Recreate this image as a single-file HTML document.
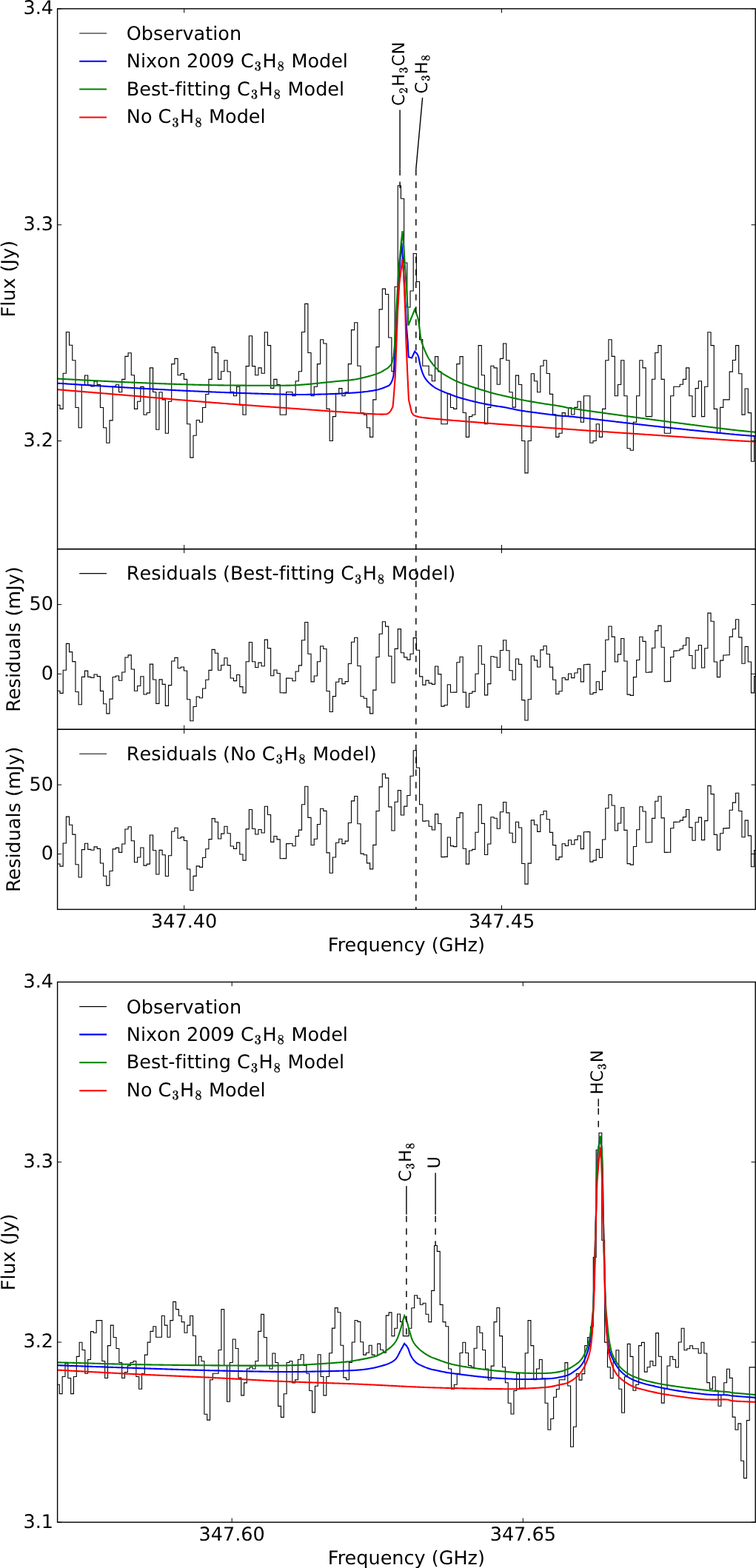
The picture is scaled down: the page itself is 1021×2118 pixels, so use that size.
<!DOCTYPE html><html><head><meta charset="utf-8"><title>Spectra</title>
<style>html,body{margin:0;padding:0;background:#fff}svg{display:block}text{font-family:'DejaVu Sans','Liberation Sans',sans-serif;fill:#000;text-rendering:geometricPrecision}</style></head><body>
<svg width="1021" height="2118" viewBox="0 0 1021 2118">
<rect width="1021" height="2118" fill="#fff"/>
<defs>
<clipPath id="ct"><rect x="77.6" y="11.8" width="942.6" height="729.8"/></clipPath>
<clipPath id="c1"><rect x="77.6" y="741.6" width="942.6" height="243.7"/></clipPath>
<clipPath id="c2"><rect x="77.6" y="985.3" width="942.6" height="243.1"/></clipPath>
<clipPath id="cb"><rect x="77.6" y="1326.5" width="942.6" height="729.7"/></clipPath>
</defs>
<g clip-path="url(#ct)" fill="none" stroke-linejoin="miter">
<path d="M77.6 547.3H81V552.4H85.19V504.2H89.37V448.5H93.56V466.3H97.74V486.7H101.93V550.5H106.12V577.7H110.3V519.7H114.49V507H118.67V520H122.86V521.9H127.05V515.3H131.23V519.5H135.42V550.5H139.6V577.7H143.79V598.3H147.98V567.9H152.16V522H156.35V519.7H160.53V529.8H164.72V512.4H168.91V481.4H173.09V476.8H177.28V506.7H181.46V552.4H185.65V542.2H189.84V522.4H194.02V560.3H198.21V557.5H202.39V496.9H206.58V529.5H210.77V580.2H214.95V529.7H219.14V539.9H223.32V585.3H227.51V542.2H231.7V491.6H235.88V484.4H240.07V506.7H244.25V504.5H248.44V512.4H252.63V572.8H256.81V618.1H261V588.3H265.18V567.5H269.37V570.2H273.56V550.5H277.74V532.5H281.93V512.4H286.11V468.9H290.3V476.5H294.49V512.4H298.67V501.8H302.86V486.7H307.04V502H311.23V529.2H315.42V534.8H319.6V522.2H323.79V547.3H327.97V560.2H332.16V494.6H336.35V453.8H340.53V494.6H344.72V506.7H348.9V496.9H353.09V504.2H357.28V448.7H361.46V466.6H365.65V524.4H369.83V512.4H374.02V519.5H378.21V560.3H382.39V560.3H386.58V529.5H390.76V529.5H394.95V534.8H399.14V514.7H403.32V501.8H407.51V448.5H411.69V410.4H415.88V476.5H420.07V534.8H424.25V522.2H428.44V491.6H432.62V458.7H436.81V464H441V552.4H445.18V595.5H449.37V562.6H453.55V532H457.74V524.6H461.93V534.8H466.11V529.7H470.3V491.6H474.48V445.6H478.67V435.8H482.86V494.3H487.04V557.5H491.23V560.3H495.41V577.7H499.6V590.4H503.79V539.9H507.97V468.6H512.16V417.9H516.34V390.1H520.53V397.5H524.72V456H528.9V501.8H533.09V387.3H537.27V250.8H541.46V268.3H545.65V355H549.83V415H554.02V393H558.2V342.5H562.39V380.5H566.58V458.6H570.76V494.3H574.95V494.3H579.13V506.7H583.32V514.7H587.51V481.6H591.69V502H595.88V572.8H600.06V572.8H604.25V532H608.44V550.5H612.62V552.4H616.81V491.6H620.99V481.6H625.18V557.5H629.37V590.4H633.55V562.6H637.74V560.3H641.92V524.6H646.11V466.6H650.3V506.7H654.48V572.8H658.67V550.4H662.85V494.3H667.04V496.9H671.23V519.2H675.41V484.4H679.6V464H683.78V486.7H687.97V529.7H692.16V550.1H696.34V507.1H700.53V519.5H704.71V595.5H708.9V638.9H713.09V595.5H717.27V504.8H721.46V514.7H725.64V529.7H729.83V494.3H734.02V486.7H738.2V504.5H742.39V532.4H746.57V559.7H750.76V590.4H754.95V585.3H759.13V557.6H763.32V562.3H767.5V550.5H771.69V560H775.88V550.4H780.06V542.3H784.25V570.2H788.43V534.8H792.62V534.8H796.81V598.3H800.99V595.5H805.18V572.8H809.36V590.4H813.55V552.4H817.74V486.7H821.92V458.7H826.11V481.4H830.29V534.8H834.48V519.5H838.67V486.7H842.85V534.8H847.04V605.7H851.22V608.3H855.41V570.2H859.6V534.8H863.78V486.7H867.97V496.9H872.15V562.6H876.34V562.6H880.53V512.3H884.71V476.5H888.9V466.6H893.08V512.4H897.27V585.3H901.46V585.3H905.64V534.8H909.83V522.2H914.01V522.2H918.2V519.2H922.39V512.4H926.57V496.9H930.76V534.8H934.94V562.6H939.13V524.6H943.32V514.7H947.5V562.6H951.69V522.2H955.87V448.7H960.06V466.6H964.25V552.4H968.43V585H972.62V550.4H976.8V539.9H980.99V539.9H985.18V502.1H989.36V486.5H993.55V466.6H997.73V504.7H1001.92V560.1H1006.11V525H1010.29V557.6H1014.48V623.2H1018.66V589H1020.2" stroke="#000" stroke-width="1.1"/>
<path d="M77.6 517.7 L79.02 517.79 L80.43 517.88 L81.85 517.96 L83.27 518.05 L84.69 518.14 L86.11 518.23 L87.53 518.32 L88.95 518.41 L90.37 518.5 L91.79 518.59 L93.21 518.68 L94.64 518.77 L96.06 518.86 L97.48 518.95 L98.9 519.04 L100.33 519.13 L101.75 519.22 L103.17 519.31 L104.6 519.4 L106.02 519.49 L107.45 519.58 L108.87 519.67 L110.29 519.76 L111.72 519.85 L113.14 519.94 L114.57 520.03 L115.99 520.12 L117.41 520.21 L118.84 520.3 L120.26 520.39 L121.69 520.49 L123.11 520.58 L124.53 520.67 L125.96 520.76 L127.38 520.85 L128.8 520.94 L130.22 521.03 L131.65 521.12 L133.07 521.21 L134.49 521.3 L135.91 521.38 L137.33 521.47 L138.75 521.56 L140.17 521.65 L141.59 521.74 L143.01 521.83 L144.42 521.92 L145.84 522 L147.26 522.09 L148.67 522.18 L150.09 522.27 L151.5 522.35 L152.92 522.44 L154.33 522.53 L155.74 522.61 L157.15 522.7 L158.56 522.78 L159.97 522.87 L161.38 522.95 L162.79 523.04 L164.2 523.12 L165.6 523.21 L167.01 523.29 L168.41 523.37 L169.82 523.46 L171.22 523.54 L172.62 523.62 L174.02 523.7 L175.42 523.78 L176.81 523.86 L178.21 523.94 L179.61 524.02 L181 524.1 L182.45 524.18 L183.9 524.26 L185.35 524.35 L186.8 524.43 L188.25 524.51 L189.69 524.59 L191.14 524.67 L192.58 524.75 L194.02 524.83 L195.46 524.91 L196.9 524.99 L198.34 525.07 L199.78 525.15 L201.22 525.23 L202.65 525.31 L204.09 525.39 L205.52 525.47 L206.96 525.55 L208.39 525.62 L209.82 525.7 L211.25 525.78 L212.68 525.86 L214.11 525.93 L215.54 526.01 L216.97 526.09 L218.39 526.16 L219.82 526.24 L221.24 526.32 L222.67 526.39 L224.1 526.47 L225.52 526.54 L226.94 526.62 L228.37 526.69 L229.79 526.76 L231.21 526.84 L232.63 526.91 L234.06 526.98 L235.48 527.06 L236.9 527.13 L238.32 527.2 L239.74 527.27 L241.16 527.34 L242.58 527.42 L244 527.49 L245.43 527.56 L246.85 527.63 L248.27 527.7 L249.69 527.77 L251.11 527.84 L252.53 527.9 L253.95 527.97 L255.37 528.04 L256.79 528.11 L258.21 528.18 L259.63 528.24 L261.05 528.31 L262.48 528.38 L263.9 528.44 L265.32 528.51 L266.74 528.57 L268.17 528.64 L269.59 528.7 L271.02 528.76 L272.44 528.83 L273.87 528.89 L275.29 528.95 L276.72 529.02 L278.14 529.08 L279.57 529.14 L281 529.2 L282.48 529.26 L283.96 529.32 L285.46 529.39 L286.96 529.45 L288.47 529.51 L290 529.57 L291.52 529.64 L293.06 529.7 L294.6 529.76 L296.15 529.82 L297.71 529.88 L299.27 529.95 L300.83 530.01 L302.4 530.07 L303.98 530.13 L305.55 530.19 L307.13 530.25 L308.72 530.31 L310.3 530.37 L311.89 530.43 L313.48 530.49 L315.07 530.55 L316.66 530.6 L318.24 530.66 L319.83 530.72 L321.42 530.78 L323.01 530.83 L324.59 530.89 L326.17 530.95 L327.75 531 L329.32 531.06 L330.9 531.11 L332.46 531.17 L334.03 531.22 L335.58 531.27 L337.13 531.32 L338.68 531.38 L340.22 531.43 L341.75 531.48 L343.27 531.53 L344.79 531.58 L346.29 531.62 L347.79 531.67 L349.28 531.72 L350.76 531.77 L352.23 531.81 L353.69 531.86 L355.13 531.9 L356.57 531.94 L357.99 531.99 L359.4 532.03 L360.8 532.07 L362.18 532.11 L363.55 532.15 L364.91 532.19 L366.25 532.23 L367.57 532.26 L368.88 532.3 L370.18 532.33 L371.45 532.37 L372.71 532.4 L373.95 532.43 L375.17 532.46 L376.38 532.49 L377.56 532.52 L378.73 532.55 L379.87 532.57 L381 532.6 L383.19 532.65 L385.3 532.69 L387.34 532.73 L389.31 532.77 L391.21 532.8 L393.04 532.83 L394.82 532.86 L396.54 532.88 L398.2 532.9 L399.82 532.92 L401.39 532.93 L402.92 532.94 L404.4 532.95 L405.85 532.96 L407.27 532.96 L408.66 532.96 L410.02 532.96 L411.37 532.95 L412.69 532.94 L413.99 532.93 L415.29 532.92 L416.58 532.91 L417.86 532.89 L419.14 532.87 L420.42 532.85 L421.7 532.83 L423 532.81 L424.31 532.78 L425.63 532.75 L426.97 532.73 L428.34 532.7 L429.73 532.67 L431.15 532.63 L432.6 532.6 L434.12 532.56 L435.66 532.52 L437.2 532.48 L438.76 532.44 L440.32 532.39 L441.89 532.34 L443.46 532.28 L445.04 532.23 L446.62 532.17 L448.2 532.11 L449.77 532.04 L451.35 531.98 L452.92 531.91 L454.48 531.84 L456.04 531.77 L457.59 531.7 L459.12 531.63 L460.65 531.55 L462.16 531.47 L463.65 531.39 L465.13 531.31 L466.59 531.23 L468.03 531.15 L469.45 531.07 L470.85 530.99 L472.22 530.9 L473.56 530.82 L474.88 530.73 L476.17 530.65 L477.43 530.56 L478.65 530.47 L479.84 530.39 L481 530.3 L482.84 530.16 L484.6 530.01 L486.3 529.86 L487.93 529.71 L489.49 529.56 L491 529.4 L492.44 529.24 L493.84 529.08 L495.18 528.92 L496.48 528.75 L497.74 528.58 L498.95 528.41 L500.14 528.23 L501.28 528.05 L502.41 527.87 L503.5 527.68 L504.57 527.49 L505.63 527.3 L506.67 527.1 L507.7 526.9 L509.36 526.55 L510.91 526.17 L512.37 525.77 L513.74 525.36 L515.02 524.94 L516.23 524.52 L517.35 524.1 L518.4 523.68 L519.39 523.28 L520.32 522.89 L521.18 522.53 L522 522.2 L523.58 521.54 L524.66 521.03 L525.41 520.55 L526.03 520 L526.7 519.3 L527.41 518.4 L528.04 517.38 L528.61 516.28 L529.12 515.14 L529.6 514 L530.03 512.86 L530.4 511.68 L530.73 510.49 L531.06 509.29 L531.4 508.1 L532.9 484.6 L534 465 L535.2 451.1 L536.3 420.8 L537.4 398.2 L538.6 379.3 L539.7 360.4 L540.8 345.3 L542.4 327.9 L544.2 352.9 L546.1 383.1 L547.6 413.3 L549.1 443.5 L550.7 462 L551.7 482.3 L556.1 483.5 L560.2 474.6 L560.86 475.4 L561.53 476.11 L562.21 476.81 L562.88 477.55 L563.53 478.38 L564.14 479.38 L564.7 480.6 L565.05 481.61 L565.36 482.74 L565.65 483.96 L565.91 485.26 L566.17 486.62 L566.42 488.01 L566.68 489.41 L566.96 490.81 L567.26 492.18 L567.6 493.5 L567.93 494.69 L568.26 495.9 L568.61 497.13 L568.96 498.36 L569.33 499.59 L569.71 500.81 L570.1 502.01 L570.5 503.18 L570.92 504.3 L571.35 505.38 L571.8 506.4 L572.36 507.56 L572.92 508.65 L573.5 509.68 L574.1 510.65 L574.73 511.59 L575.39 512.5 L576.08 513.4 L576.82 514.29 L577.6 515.2 L578.36 516.03 L579.17 516.86 L580.02 517.69 L580.9 518.5 L581.81 519.31 L582.73 520.09 L583.66 520.85 L584.59 521.57 L585.5 522.26 L586.4 522.9 L587.37 523.55 L588.32 524.15 L589.26 524.69 L590.2 525.19 L591.15 525.68 L592.12 526.14 L593.13 526.61 L594.19 527.09 L595.3 527.6 L596.35 528.07 L597.44 528.54 L598.56 529.01 L599.72 529.48 L600.89 529.95 L602.09 530.42 L603.31 530.89 L604.53 531.36 L605.76 531.83 L607 532.3 L608.09 532.72 L609.14 533.13 L610.15 533.54 L611.17 533.94 L612.2 534.35 L613.27 534.76 L614.41 535.17 L615.63 535.6 L616.95 536.05 L618.4 536.51 L620 537 L620.95 537.28 L621.96 537.57 L623.02 537.87 L624.12 538.18 L625.26 538.5 L626.44 538.83 L627.64 539.15 L628.88 539.49 L630.13 539.82 L631.4 540.16 L632.68 540.49 L633.97 540.83 L635.27 541.16 L636.56 541.48 L637.84 541.81 L639.11 542.12 L640.37 542.43 L641.61 542.73 L642.82 543.02 L644 543.3 L645.3 543.6 L646.62 543.9 L647.94 544.19 L649.27 544.48 L650.61 544.77 L651.94 545.05 L653.27 545.32 L654.59 545.59 L655.9 545.86 L657.19 546.11 L658.47 546.36 L659.73 546.61 L660.96 546.84 L662.16 547.07 L663.32 547.29 L664.46 547.5 L665.55 547.71 L666.6 547.9 L668.18 548.18 L669.6 548.41 L670.88 548.61 L672.07 548.78 L673.2 548.93 L674.31 549.07 L675.45 549.22 L676.65 549.39 L677.95 549.59 L679.39 549.82 L681 550.1 L682.07 550.3 L683.17 550.51 L684.31 550.74 L685.48 550.97 L686.69 551.22 L687.92 551.48 L689.18 551.75 L690.47 552.02 L691.78 552.29 L693.11 552.57 L694.46 552.85 L695.83 553.13 L697.22 553.41 L698.62 553.68 L700.02 553.95 L701.44 554.21 L702.87 554.46 L704.3 554.7 L705.55 554.9 L706.82 555.1 L708.13 555.3 L709.46 555.5 L710.81 555.7 L712.18 555.89 L713.57 556.09 L714.97 556.28 L716.37 556.47 L717.78 556.66 L719.19 556.85 L720.6 557.04 L722 557.22 L723.4 557.4 L724.78 557.58 L726.14 557.76 L727.49 557.93 L728.81 558.1 L730.1 558.27 L731.37 558.44 L732.6 558.6 L734.08 558.8 L735.51 558.99 L736.9 559.18 L738.26 559.37 L739.6 559.55 L740.9 559.73 L742.2 559.9 L743.48 560.07 L744.75 560.24 L746.02 560.41 L747.29 560.57 L748.57 560.73 L749.87 560.89 L751.19 561.04 L752.53 561.2 L753.9 561.35 L755.3 561.5 L756.55 561.63 L757.62 561.72 L758.55 561.8 L759.38 561.86 L760.15 561.9 L760.89 561.94 L761.64 561.97 L762.44 562.01 L763.32 562.06 L764.32 562.12 L765.47 562.19 L766.82 562.3 L768.39 562.43 L770.24 562.59 L772.38 562.8 L774.87 563.05 L777.73 563.35 L781 563.7 L781.86 563.8 L782.75 563.89 L783.67 564 L784.61 564.1 L785.57 564.21 L786.56 564.32 L787.58 564.44 L788.62 564.56 L789.68 564.68 L790.76 564.8 L791.86 564.93 L792.99 565.06 L794.13 565.19 L795.3 565.33 L796.48 565.46 L797.69 565.6 L798.91 565.75 L800.15 565.89 L801.41 566.04 L802.68 566.19 L803.97 566.34 L805.28 566.49 L806.6 566.65 L807.93 566.81 L809.28 566.96 L810.64 567.12 L812.02 567.29 L813.41 567.45 L814.81 567.62 L816.22 567.78 L817.64 567.95 L819.07 568.12 L820.51 568.29 L821.96 568.46 L823.42 568.63 L824.88 568.81 L826.36 568.98 L827.84 569.16 L829.32 569.33 L830.81 569.51 L832.31 569.68 L833.81 569.86 L835.32 570.04 L836.83 570.22 L838.34 570.39 L839.86 570.57 L841.37 570.75 L842.89 570.93 L844.41 571.11 L845.93 571.29 L847.45 571.46 L848.96 571.64 L850.48 571.82 L851.99 571.99 L853.5 572.17 L855.01 572.34 L856.52 572.52 L858.02 572.69 L859.51 572.87 L861 573.04 L862.49 573.21 L863.97 573.38 L865.44 573.55 L866.9 573.71 L868.36 573.88 L869.8 574.04 L871.24 574.21 L872.67 574.37 L874.09 574.53 L875.49 574.69 L876.89 574.84 L878.27 575 L879.64 575.15 L881 575.3 L882.38 575.45 L883.76 575.6 L885.16 575.76 L886.57 575.91 L887.98 576.07 L889.41 576.22 L890.84 576.38 L892.28 576.54 L893.73 576.69 L895.19 576.85 L896.65 577.01 L898.12 577.17 L899.6 577.33 L901.08 577.49 L902.57 577.65 L904.06 577.81 L905.55 577.97 L907.05 578.13 L908.55 578.29 L910.05 578.45 L911.56 578.61 L913.07 578.77 L914.57 578.93 L916.08 579.09 L917.59 579.25 L919.1 579.41 L920.61 579.57 L922.11 579.73 L923.62 579.89 L925.12 580.05 L926.62 580.21 L928.12 580.37 L929.61 580.52 L931.1 580.68 L932.58 580.84 L934.06 580.99 L935.54 581.15 L937 581.3 L938.47 581.45 L939.92 581.6 L941.37 581.75 L942.81 581.9 L944.24 582.05 L945.66 582.2 L947.07 582.35 L948.48 582.49 L949.87 582.64 L951.25 582.78 L952.63 582.92 L953.99 583.06 L955.33 583.2 L956.67 583.34 L957.99 583.47 L959.3 583.61 L960.6 583.74 L961.88 583.87 L963.14 584 L964.4 584.13 L965.63 584.25 L966.85 584.38 L968.05 584.5 L969.24 584.62 L970.4 584.74 L971.55 584.85 L972.68 584.97 L973.79 585.08 L974.89 585.19 L975.96 585.3 L977.01 585.4 L978.04 585.51 L979.05 585.61 L980.04 585.7 L981 585.8 L983.41 586.04 L985.67 586.26 L987.8 586.46 L989.79 586.65 L991.66 586.82 L993.42 586.98 L995.08 587.13 L996.63 587.27 L998.1 587.39 L999.49 587.51 L1000.8 587.62 L1002.05 587.72 L1003.25 587.81 L1004.4 587.9 L1005.51 587.98 L1006.59 588.06 L1007.65 588.14 L1008.69 588.22 L1009.73 588.29 L1010.77 588.37 L1011.83 588.44 L1012.9 588.52 L1014 588.61 L1015.13 588.69 L1016.31 588.78 L1017.54 588.88 L1018.84 588.99 L1020.2 589.1" stroke="#0000ff" stroke-width="2.1"/>
<path d="M77.6 511.6 L79.04 511.67 L80.47 511.74 L81.91 511.81 L83.35 511.89 L84.79 511.96 L86.23 512.03 L87.67 512.1 L89.11 512.18 L90.55 512.25 L91.99 512.32 L93.43 512.4 L94.87 512.47 L96.31 512.54 L97.76 512.62 L99.2 512.69 L100.64 512.77 L102.09 512.84 L103.53 512.91 L104.97 512.99 L106.42 513.06 L107.86 513.14 L109.3 513.21 L110.75 513.29 L112.19 513.36 L113.64 513.44 L115.08 513.51 L116.52 513.59 L117.97 513.66 L119.41 513.74 L120.86 513.81 L122.3 513.89 L123.74 513.96 L125.19 514.03 L126.63 514.11 L128.07 514.18 L129.51 514.26 L130.95 514.33 L132.4 514.4 L133.84 514.48 L135.28 514.55 L136.72 514.62 L138.16 514.7 L139.6 514.77 L141.04 514.84 L142.47 514.91 L143.91 514.98 L145.35 515.05 L146.79 515.13 L148.22 515.2 L149.66 515.27 L151.09 515.34 L152.52 515.41 L153.96 515.48 L155.39 515.54 L156.82 515.61 L158.25 515.68 L159.68 515.75 L161.11 515.82 L162.54 515.88 L163.96 515.95 L165.39 516.01 L166.81 516.08 L168.24 516.14 L169.66 516.21 L171.08 516.27 L172.5 516.33 L173.92 516.4 L175.34 516.46 L176.76 516.52 L178.17 516.58 L179.59 516.64 L181 516.7 L182.49 516.76 L183.99 516.82 L185.48 516.89 L186.97 516.95 L188.46 517.01 L189.95 517.07 L191.43 517.13 L192.92 517.19 L194.4 517.26 L195.89 517.32 L197.37 517.38 L198.85 517.44 L200.33 517.5 L201.81 517.56 L203.29 517.62 L204.76 517.68 L206.24 517.74 L207.71 517.79 L209.19 517.85 L210.66 517.91 L212.13 517.97 L213.6 518.02 L215.08 518.08 L216.55 518.14 L218.01 518.19 L219.48 518.25 L220.95 518.31 L222.42 518.36 L223.89 518.42 L225.35 518.47 L226.82 518.52 L228.28 518.58 L229.75 518.63 L231.21 518.68 L232.68 518.73 L234.14 518.78 L235.6 518.84 L237.07 518.89 L238.53 518.94 L239.99 518.98 L241.46 519.03 L242.92 519.08 L244.38 519.13 L245.84 519.18 L247.31 519.22 L248.77 519.27 L250.23 519.31 L251.69 519.36 L253.15 519.4 L254.62 519.44 L256.08 519.49 L257.54 519.53 L259.01 519.57 L260.47 519.61 L261.93 519.65 L263.4 519.69 L264.86 519.73 L266.33 519.77 L267.79 519.8 L269.26 519.84 L270.72 519.87 L272.19 519.91 L273.66 519.94 L275.12 519.98 L276.59 520.01 L278.06 520.04 L279.53 520.07 L281 520.1 L282.5 520.13 L284.02 520.16 L285.55 520.19 L287.09 520.21 L288.65 520.24 L290.21 520.26 L291.79 520.29 L293.39 520.31 L294.99 520.34 L296.6 520.36 L298.22 520.38 L299.85 520.4 L301.48 520.42 L303.12 520.44 L304.77 520.46 L306.42 520.48 L308.08 520.49 L309.74 520.51 L311.4 520.53 L313.07 520.54 L314.74 520.56 L316.41 520.57 L318.08 520.58 L319.74 520.6 L321.41 520.61 L323.08 520.62 L324.74 520.63 L326.4 520.64 L328.06 520.65 L329.71 520.66 L331.35 520.67 L332.99 520.68 L334.62 520.68 L336.25 520.69 L337.87 520.7 L339.47 520.7 L341.07 520.71 L342.66 520.71 L344.24 520.72 L345.8 520.72 L347.35 520.73 L348.89 520.73 L350.42 520.73 L351.93 520.74 L353.42 520.74 L354.9 520.74 L356.36 520.74 L357.81 520.74 L359.24 520.74 L360.64 520.74 L362.03 520.74 L363.4 520.74 L364.75 520.74 L366.07 520.74 L367.37 520.74 L368.65 520.74 L369.91 520.73 L371.14 520.73 L372.35 520.73 L373.53 520.73 L374.68 520.72 L375.81 520.72 L376.9 520.72 L377.97 520.71 L379.01 520.71 L380.02 520.7 L381 520.7 L384.06 520.68 L386.8 520.66 L389.26 520.63 L391.45 520.59 L393.39 520.55 L395.12 520.5 L396.65 520.45 L398.02 520.4 L399.24 520.34 L400.34 520.28 L401.34 520.21 L402.27 520.14 L403.15 520.07 L404.01 519.99 L404.86 519.91 L405.75 519.83 L406.68 519.75 L407.68 519.67 L408.78 519.58 L410 519.5 L411.59 519.39 L413.13 519.27 L414.63 519.15 L416.1 519.02 L417.53 518.89 L418.94 518.75 L420.33 518.61 L421.69 518.47 L423.05 518.32 L424.4 518.18 L425.74 518.03 L427.09 517.88 L428.45 517.73 L429.81 517.59 L431.2 517.44 L432.6 517.3 L434.01 517.16 L435.41 517.02 L436.81 516.88 L438.2 516.74 L439.59 516.61 L440.97 516.47 L442.36 516.33 L443.76 516.19 L445.16 516.05 L446.56 515.9 L447.98 515.76 L449.41 515.61 L450.86 515.46 L452.32 515.31 L453.8 515.16 L455.3 515 L456.65 514.86 L458.02 514.73 L459.4 514.61 L460.79 514.49 L462.19 514.37 L463.61 514.25 L465.03 514.13 L466.46 514.01 L467.9 513.88 L469.34 513.75 L470.79 513.6 L472.25 513.45 L473.71 513.28 L475.16 513.1 L476.62 512.9 L478.08 512.69 L479.54 512.46 L481 512.2 L482.21 511.97 L483.44 511.73 L484.7 511.48 L485.97 511.21 L487.26 510.93 L488.56 510.63 L489.87 510.33 L491.19 510.02 L492.5 509.7 L493.81 509.38 L495.11 509.05 L496.39 508.72 L497.66 508.38 L498.91 508.04 L500.14 507.7 L501.34 507.36 L502.5 507.03 L503.63 506.69 L504.72 506.36 L505.76 506.03 L506.76 505.71 L507.7 505.4 L509.2 504.87 L510.61 504.32 L511.93 503.76 L513.16 503.2 L514.31 502.63 L515.39 502.07 L516.4 501.51 L517.35 500.97 L518.24 500.44 L519.07 499.94 L519.86 499.46 L520.6 499.01 L521.3 498.6 L522.75 497.72 L523.69 497.06 L524.31 496.49 L524.85 495.91 L525.5 495.2 L526.28 494.41 L527.05 493.61 L527.78 492.74 L528.47 491.72 L529.1 490.5 L529.5 489.46 L529.85 488.28 L530.18 487.02 L530.48 485.69 L530.78 484.33 L531.08 482.99 L531.4 481.7 L532.9 467 L533.3 458.6 L534.4 436 L535.6 413.3 L536.7 394.4 L537.7 375.5 L538.6 360.4 L540.1 345.3 L541.6 330.2 L543.5 312.1 L545 330.2 L546.5 352.9 L548 375.5 L549.5 398.2 L550.7 417.1 L551.4 439.7 L551.83 438.63 L552.25 437.56 L552.68 436.49 L553.11 435.42 L553.54 434.35 L553.97 433.28 L554.4 432.2 L554.84 431.11 L555.29 430.01 L555.75 428.91 L556.2 427.81 L556.65 426.72 L557.08 425.64 L557.5 424.6 L557.96 423.42 L558.4 422.27 L558.83 421.15 L559.25 420.04 L559.67 418.92 L560.1 417.8 L560.54 418.92 L560.98 420.04 L561.42 421.15 L561.86 422.27 L562.28 423.42 L562.7 424.6 L563.11 425.78 L563.52 426.94 L563.92 428.12 L564.3 429.36 L564.67 430.71 L565 432.2 L565.23 433.44 L565.43 434.76 L565.62 436.17 L565.8 437.62 L565.97 439.1 L566.14 440.59 L566.32 442.06 L566.5 443.5 L566.69 444.94 L566.88 446.42 L567.06 447.92 L567.25 449.41 L567.44 450.86 L567.62 452.26 L567.81 453.58 L568 454.8 L568.28 456.49 L568.54 457.94 L568.81 459.26 L569.12 460.57 L569.5 462 L569.81 463.07 L570.13 464.12 L570.48 465.17 L570.86 466.26 L571.28 467.41 L571.76 468.65 L572.3 470 L572.69 470.94 L573.1 471.95 L573.55 473.03 L574.02 474.14 L574.51 475.28 L575.01 476.43 L575.52 477.57 L576.04 478.7 L576.57 479.79 L577.09 480.83 L577.6 481.8 L578.23 482.92 L578.87 483.99 L579.52 485.02 L580.18 486.02 L580.84 486.98 L581.51 487.91 L582.18 488.82 L582.84 489.72 L583.5 490.6 L584.24 491.57 L584.98 492.52 L585.71 493.43 L586.45 494.32 L587.19 495.18 L587.92 496.01 L588.66 496.82 L589.4 497.6 L590.19 498.43 L590.92 499.19 L591.62 499.9 L592.37 500.59 L593.19 501.3 L594.15 502.06 L595.3 502.9 L596.07 503.43 L596.9 503.99 L597.79 504.56 L598.72 505.16 L599.7 505.77 L600.71 506.38 L601.74 507 L602.79 507.62 L603.85 508.23 L604.91 508.84 L605.96 509.43 L607 510 L608 510.55 L608.96 511.09 L609.9 511.61 L610.83 512.12 L611.77 512.63 L612.73 513.13 L613.74 513.64 L614.8 514.16 L615.95 514.69 L617.18 515.24 L618.53 515.81 L620 516.4 L620.91 516.75 L621.86 517.12 L622.86 517.49 L623.91 517.87 L624.98 518.26 L626.1 518.65 L627.24 519.05 L628.4 519.46 L629.59 519.86 L630.79 520.27 L632.01 520.68 L633.23 521.09 L634.47 521.5 L635.7 521.9 L636.92 522.31 L638.14 522.71 L639.35 523.1 L640.55 523.49 L641.72 523.87 L642.88 524.24 L644 524.6 L645.23 525 L646.48 525.39 L647.73 525.79 L648.99 526.18 L650.26 526.58 L651.52 526.97 L652.78 527.35 L654.04 527.74 L655.28 528.11 L656.52 528.48 L657.73 528.85 L658.94 529.2 L660.12 529.55 L661.27 529.89 L662.4 530.22 L663.51 530.53 L664.57 530.83 L665.61 531.12 L666.6 531.4 L668.18 531.83 L669.6 532.2 L670.88 532.52 L672.07 532.81 L673.2 533.07 L674.31 533.32 L675.45 533.57 L676.65 533.83 L677.95 534.12 L679.39 534.44 L681 534.8 L682.01 535.03 L683.05 535.27 L684.13 535.52 L685.23 535.78 L686.37 536.04 L687.53 536.32 L688.72 536.59 L689.93 536.87 L691.16 537.16 L692.41 537.44 L693.68 537.73 L694.97 538.02 L696.27 538.31 L697.58 538.6 L698.91 538.89 L700.25 539.17 L701.59 539.45 L702.94 539.73 L704.3 540 L705.49 540.23 L706.71 540.47 L707.95 540.7 L709.22 540.94 L710.5 541.18 L711.81 541.42 L713.13 541.66 L714.46 541.9 L715.8 542.14 L717.14 542.38 L718.49 542.61 L719.83 542.85 L721.18 543.08 L722.51 543.31 L723.84 543.53 L725.15 543.76 L726.45 543.98 L727.73 544.19 L728.99 544.4 L730.22 544.61 L731.42 544.81 L732.6 545 L734.08 545.24 L735.51 545.47 L736.9 545.68 L738.26 545.88 L739.6 546.08 L740.9 546.27 L742.2 546.45 L743.48 546.64 L744.75 546.81 L746.02 546.99 L747.29 547.18 L748.57 547.36 L749.87 547.55 L751.19 547.75 L752.53 547.95 L753.9 548.17 L755.3 548.4 L756.43 548.59 L757.41 548.77 L758.28 548.94 L759.06 549.1 L759.77 549.25 L760.45 549.4 L761.12 549.55 L761.8 549.71 L762.52 549.88 L763.32 550.05 L764.21 550.24 L765.23 550.44 L766.39 550.66 L767.73 550.91 L769.28 551.17 L771.06 551.47 L773.09 551.8 L775.41 552.16 L778.04 552.56 L781 553 L781.85 553.12 L782.73 553.25 L783.63 553.38 L784.56 553.52 L785.51 553.65 L786.48 553.8 L787.48 553.94 L788.5 554.09 L789.55 554.23 L790.61 554.39 L791.7 554.54 L792.81 554.7 L793.93 554.86 L795.08 555.02 L796.24 555.19 L797.43 555.35 L798.63 555.52 L799.85 555.7 L801.09 555.87 L802.34 556.05 L803.61 556.22 L804.89 556.4 L806.19 556.59 L807.5 556.77 L808.83 556.96 L810.17 557.14 L811.52 557.33 L812.89 557.52 L814.26 557.71 L815.65 557.91 L817.05 558.1 L818.46 558.3 L819.87 558.49 L821.3 558.69 L822.74 558.89 L824.18 559.09 L825.63 559.29 L827.09 559.49 L828.55 559.69 L830.02 559.89 L831.49 560.09 L832.97 560.3 L834.46 560.5 L835.94 560.71 L837.43 560.91 L838.93 561.11 L840.42 561.32 L841.92 561.52 L843.42 561.73 L844.91 561.93 L846.41 562.14 L847.91 562.34 L849.41 562.55 L850.9 562.75 L852.4 562.95 L853.89 563.15 L855.37 563.36 L856.86 563.56 L858.34 563.76 L859.81 563.96 L861.28 564.16 L862.74 564.35 L864.2 564.55 L865.65 564.74 L867.09 564.94 L868.53 565.13 L869.96 565.32 L871.37 565.51 L872.78 565.7 L874.18 565.89 L875.57 566.08 L876.94 566.26 L878.31 566.44 L879.66 566.62 L881 566.8 L882.34 566.98 L883.69 567.16 L885.05 567.34 L886.42 567.52 L887.79 567.7 L889.18 567.88 L890.57 568.07 L891.98 568.25 L893.39 568.44 L894.8 568.62 L896.22 568.81 L897.65 569 L899.09 569.18 L900.53 569.37 L901.97 569.56 L903.42 569.75 L904.87 569.94 L906.33 570.13 L907.79 570.32 L909.25 570.51 L910.72 570.7 L912.18 570.89 L913.65 571.08 L915.12 571.27 L916.59 571.46 L918.05 571.65 L919.52 571.84 L920.99 572.03 L922.45 572.22 L923.92 572.4 L925.38 572.59 L926.84 572.78 L928.3 572.97 L929.75 573.15 L931.2 573.34 L932.64 573.52 L934.08 573.71 L935.52 573.89 L936.95 574.07 L938.37 574.26 L939.79 574.44 L941.19 574.62 L942.6 574.79 L943.99 574.97 L945.38 575.15 L946.76 575.32 L948.12 575.5 L949.48 575.67 L950.83 575.84 L952.17 576.01 L953.5 576.18 L954.81 576.34 L956.12 576.51 L957.41 576.67 L958.69 576.83 L959.96 576.99 L961.21 577.15 L962.45 577.3 L963.68 577.45 L964.89 577.61 L966.09 577.76 L967.27 577.9 L968.43 578.05 L969.58 578.19 L970.71 578.33 L971.83 578.47 L972.92 578.61 L974 578.74 L975.06 578.87 L976.1 579 L977.12 579.12 L978.12 579.25 L979.1 579.37 L980.06 579.49 L981 579.6 L983.41 579.89 L985.67 580.16 L987.8 580.42 L989.79 580.65 L991.66 580.87 L993.42 581.07 L995.08 581.25 L996.63 581.43 L998.1 581.59 L999.49 581.73 L1000.8 581.87 L1002.05 582 L1003.25 582.12 L1004.4 582.24 L1005.51 582.35 L1006.59 582.45 L1007.65 582.55 L1008.69 582.65 L1009.73 582.75 L1010.77 582.85 L1011.83 582.95 L1012.9 583.06 L1014 583.16 L1015.13 583.28 L1016.31 583.39 L1017.54 583.52 L1018.84 583.66 L1020.2 583.8" stroke="#008000" stroke-width="2.1"/>
<path d="M77.6 526.2 L79 526.32 L80.4 526.43 L81.79 526.55 L83.19 526.67 L84.59 526.78 L85.99 526.9 L87.39 527.01 L88.8 527.13 L90.2 527.25 L91.6 527.36 L93 527.48 L94.41 527.6 L95.81 527.71 L97.21 527.83 L98.62 527.94 L100.02 528.06 L101.42 528.18 L102.83 528.29 L104.23 528.41 L105.64 528.53 L107.04 528.64 L108.45 528.76 L109.85 528.88 L111.26 528.99 L112.66 529.11 L114.07 529.23 L115.47 529.34 L116.88 529.46 L118.28 529.57 L119.69 529.69 L121.09 529.81 L122.49 529.92 L123.9 530.04 L125.3 530.16 L126.71 530.27 L128.11 530.39 L129.51 530.51 L130.92 530.62 L132.32 530.74 L133.72 530.86 L135.12 530.97 L136.52 531.09 L137.92 531.2 L139.32 531.32 L140.72 531.44 L142.12 531.55 L143.52 531.67 L144.92 531.79 L146.32 531.9 L147.72 532.02 L149.11 532.13 L150.51 532.25 L151.9 532.37 L153.3 532.48 L154.69 532.6 L156.09 532.72 L157.48 532.83 L158.87 532.95 L160.26 533.06 L161.65 533.18 L163.04 533.3 L164.43 533.41 L165.81 533.53 L167.2 533.64 L168.58 533.76 L169.97 533.87 L171.35 533.99 L172.73 534.11 L174.11 534.22 L175.49 534.34 L176.87 534.45 L178.25 534.57 L179.63 534.68 L181 534.8 L182.41 534.92 L183.82 535.04 L185.23 535.16 L186.64 535.28 L188.05 535.4 L189.45 535.52 L190.86 535.64 L192.26 535.75 L193.66 535.87 L195.06 535.99 L196.46 536.11 L197.86 536.24 L199.26 536.36 L200.66 536.48 L202.06 536.6 L203.45 536.72 L204.85 536.84 L206.24 536.96 L207.63 537.08 L209.02 537.2 L210.42 537.32 L211.81 537.44 L213.2 537.56 L214.59 537.68 L215.97 537.8 L217.36 537.92 L218.75 538.04 L220.14 538.16 L221.52 538.28 L222.91 538.4 L224.29 538.52 L225.68 538.64 L227.06 538.77 L228.45 538.89 L229.83 539.01 L231.21 539.12 L232.6 539.24 L233.98 539.36 L235.36 539.48 L236.74 539.6 L238.12 539.72 L239.51 539.84 L240.89 539.96 L242.27 540.08 L243.65 540.2 L245.03 540.32 L246.41 540.43 L247.79 540.55 L249.17 540.67 L250.55 540.79 L251.94 540.9 L253.32 541.02 L254.7 541.14 L256.08 541.25 L257.46 541.37 L258.84 541.49 L260.23 541.6 L261.61 541.72 L262.99 541.83 L264.37 541.95 L265.76 542.06 L267.14 542.18 L268.52 542.29 L269.91 542.4 L271.29 542.52 L272.68 542.63 L274.06 542.74 L275.45 542.86 L276.84 542.97 L278.22 543.08 L279.61 543.19 L281 543.3 L282.41 543.41 L283.82 543.52 L285.23 543.63 L286.64 543.75 L288.05 543.86 L289.47 543.97 L290.88 544.08 L292.3 544.19 L293.71 544.3 L295.13 544.4 L296.54 544.51 L297.96 544.62 L299.38 544.73 L300.8 544.84 L302.21 544.95 L303.63 545.05 L305.05 545.16 L306.47 545.27 L307.89 545.37 L309.31 545.48 L310.73 545.59 L312.15 545.69 L313.57 545.8 L314.99 545.91 L316.41 546.01 L317.83 546.12 L319.25 546.22 L320.67 546.33 L322.09 546.43 L323.51 546.54 L324.93 546.64 L326.35 546.74 L327.77 546.85 L329.19 546.95 L330.6 547.05 L332.02 547.16 L333.44 547.26 L334.85 547.36 L336.27 547.47 L337.68 547.57 L339.1 547.67 L340.51 547.77 L341.93 547.88 L343.34 547.98 L344.75 548.08 L346.16 548.18 L347.57 548.28 L348.98 548.39 L350.38 548.49 L351.79 548.59 L353.19 548.69 L354.6 548.79 L356 548.89 L357.4 548.99 L358.8 549.09 L360.2 549.2 L361.6 549.3 L363 549.4 L364.39 549.5 L365.78 549.6 L367.18 549.7 L368.57 549.8 L369.95 549.9 L371.34 550 L372.73 550.1 L374.11 550.2 L375.49 550.3 L376.87 550.4 L378.25 550.5 L379.63 550.6 L381 550.7 L382.46 550.81 L383.93 550.91 L385.41 551.02 L386.89 551.13 L388.39 551.24 L389.89 551.35 L391.4 551.46 L392.91 551.57 L394.44 551.68 L395.96 551.79 L397.49 551.9 L399.03 552.02 L400.57 552.13 L402.11 552.24 L403.66 552.35 L405.21 552.47 L406.76 552.58 L408.31 552.69 L409.87 552.81 L411.42 552.92 L412.97 553.03 L414.53 553.15 L416.08 553.26 L417.63 553.37 L419.18 553.49 L420.73 553.6 L422.27 553.71 L423.81 553.82 L425.35 553.93 L426.88 554.05 L428.41 554.16 L429.93 554.27 L431.44 554.38 L432.95 554.49 L434.46 554.59 L435.95 554.7 L437.44 554.81 L438.92 554.92 L440.39 555.02 L441.85 555.13 L443.3 555.23 L444.74 555.33 L446.17 555.44 L447.59 555.54 L449 555.64 L450.4 555.74 L451.78 555.83 L453.15 555.93 L454.5 556.03 L455.85 556.12 L457.17 556.21 L458.48 556.31 L459.78 556.4 L461.06 556.49 L462.32 556.57 L463.57 556.66 L464.8 556.74 L466.01 556.83 L467.2 556.91 L468.37 556.99 L469.52 557.07 L470.66 557.14 L471.77 557.22 L472.86 557.29 L473.93 557.36 L474.98 557.43 L476 557.5 L478.38 557.66 L480.66 557.81 L482.85 557.95 L484.95 558.09 L486.97 558.22 L488.9 558.35 L490.76 558.47 L492.53 558.58 L494.24 558.69 L495.88 558.79 L497.44 558.89 L498.95 558.98 L500.39 559.06 L501.77 559.14 L503.11 559.21 L504.38 559.28 L505.61 559.34 L506.8 559.39 L507.94 559.44 L509.04 559.48 L510.11 559.52 L511.14 559.55 L512.14 559.57 L513.11 559.59 L514.06 559.6 L514.99 559.61 L515.9 559.61 L516.8 559.6 L519.79 559.52 L521.81 559.34 L523.11 559.07 L523.91 558.7 L524.47 558.23 L525.02 557.66 L525.8 557 L526.59 556.3 L527.28 555.49 L527.88 554.58 L528.42 553.6 L528.93 552.59 L529.43 551.56 L529.94 550.56 L530.5 549.6 L531.4 540 L533.8 508.1 L535.9 451.1 L537.1 420.8 L538.2 402 L539.3 383.1 L541.2 368 L543.5 349.8 L545 368 L546.1 390.6 L547.3 420.8 L548.4 460 L550.2 502.3 L552 540 L556 557.3 L556.75 558.1 L557.25 558.91 L557.75 559.72 L558.5 560.52 L559.73 561.29 L561.7 562 L562.49 562.23 L563.19 562.44 L563.83 562.63 L564.43 562.81 L565.04 562.98 L565.69 563.15 L566.41 563.31 L567.24 563.47 L568.21 563.63 L569.35 563.81 L570.7 563.99 L572.28 564.18 L574.14 564.4 L576.31 564.63 L578.82 564.89 L581.71 565.18 L585 565.5 L585.88 565.58 L586.79 565.67 L587.72 565.76 L588.69 565.85 L589.68 565.94 L590.7 566.03 L591.74 566.12 L592.81 566.22 L593.91 566.32 L595.03 566.42 L596.17 566.52 L597.33 566.62 L598.52 566.72 L599.73 566.83 L600.96 566.94 L602.21 567.04 L603.47 567.15 L604.76 567.26 L606.07 567.37 L607.39 567.49 L608.73 567.6 L610.09 567.71 L611.47 567.83 L612.86 567.95 L614.26 568.06 L615.68 568.18 L617.11 568.3 L618.55 568.42 L620.01 568.54 L621.48 568.66 L622.95 568.78 L624.44 568.9 L625.94 569.03 L627.45 569.15 L628.97 569.27 L630.49 569.4 L632.02 569.52 L633.56 569.65 L635.1 569.77 L636.65 569.9 L638.2 570.02 L639.76 570.15 L641.32 570.27 L642.88 570.4 L644.44 570.52 L646.01 570.65 L647.58 570.77 L649.15 570.9 L650.71 571.02 L652.28 571.15 L653.84 571.27 L655.41 571.39 L656.96 571.52 L658.52 571.64 L660.07 571.76 L661.62 571.89 L663.16 572.01 L664.69 572.13 L666.22 572.25 L667.74 572.37 L669.26 572.49 L670.76 572.6 L672.26 572.72 L673.74 572.84 L675.22 572.95 L676.68 573.06 L678.13 573.18 L679.57 573.29 L681 573.4 L682.38 573.51 L683.76 573.61 L685.15 573.72 L686.53 573.83 L687.92 573.93 L689.31 574.04 L690.7 574.15 L692.09 574.25 L693.48 574.36 L694.88 574.46 L696.27 574.57 L697.67 574.67 L699.07 574.78 L700.46 574.89 L701.86 574.99 L703.26 575.1 L704.67 575.2 L706.07 575.31 L707.47 575.41 L708.88 575.51 L710.28 575.62 L711.69 575.72 L713.1 575.83 L714.51 575.93 L715.92 576.03 L717.33 576.14 L718.74 576.24 L720.15 576.35 L721.56 576.45 L722.97 576.55 L724.38 576.66 L725.8 576.76 L727.21 576.86 L728.63 576.96 L730.04 577.07 L731.46 577.17 L732.87 577.27 L734.29 577.38 L735.71 577.48 L737.12 577.58 L738.54 577.68 L739.96 577.78 L741.37 577.89 L742.79 577.99 L744.21 578.09 L745.63 578.19 L747.05 578.29 L748.46 578.39 L749.88 578.49 L751.3 578.6 L752.72 578.7 L754.13 578.8 L755.55 578.9 L756.97 579 L758.39 579.1 L759.8 579.2 L761.22 579.3 L762.64 579.4 L764.05 579.5 L765.47 579.6 L766.88 579.7 L768.3 579.8 L769.71 579.9 L771.12 580 L772.54 580.1 L773.95 580.2 L775.36 580.3 L776.77 580.4 L778.18 580.5 L779.59 580.6 L781 580.7 L782.41 580.8 L783.82 580.9 L785.23 581 L786.63 581.1 L788.04 581.19 L789.45 581.29 L790.86 581.39 L792.27 581.49 L793.68 581.59 L795.08 581.68 L796.49 581.78 L797.9 581.88 L799.31 581.98 L800.72 582.07 L802.13 582.17 L803.54 582.27 L804.94 582.36 L806.35 582.46 L807.76 582.56 L809.17 582.65 L810.58 582.75 L811.99 582.84 L813.39 582.94 L814.8 583.04 L816.21 583.13 L817.62 583.23 L819.03 583.32 L820.44 583.42 L821.85 583.51 L823.25 583.61 L824.66 583.7 L826.07 583.8 L827.48 583.89 L828.89 583.99 L830.3 584.08 L831.7 584.18 L833.11 584.27 L834.52 584.37 L835.93 584.46 L837.34 584.56 L838.75 584.65 L840.15 584.75 L841.56 584.84 L842.97 584.94 L844.38 585.03 L845.79 585.13 L847.2 585.22 L848.61 585.31 L850.01 585.41 L851.42 585.5 L852.83 585.6 L854.24 585.69 L855.65 585.79 L857.06 585.88 L858.46 585.98 L859.87 586.07 L861.28 586.17 L862.69 586.26 L864.1 586.36 L865.51 586.45 L866.92 586.55 L868.32 586.64 L869.73 586.74 L871.14 586.83 L872.55 586.93 L873.96 587.02 L875.37 587.12 L876.77 587.21 L878.18 587.31 L879.59 587.4 L881 587.5 L882.41 587.6 L883.84 587.69 L885.28 587.79 L886.72 587.89 L888.18 587.99 L889.65 588.09 L891.13 588.19 L892.61 588.29 L894.1 588.39 L895.6 588.5 L897.11 588.6 L898.62 588.7 L900.14 588.81 L901.67 588.91 L903.2 589.01 L904.73 589.12 L906.27 589.22 L907.81 589.33 L909.36 589.44 L910.9 589.54 L912.45 589.65 L914 589.75 L915.55 589.86 L917.1 589.96 L918.65 590.07 L920.2 590.18 L921.75 590.28 L923.3 590.39 L924.85 590.49 L926.39 590.6 L927.93 590.71 L929.46 590.81 L930.99 590.91 L932.52 591.02 L934.04 591.12 L935.56 591.23 L937.07 591.33 L938.57 591.43 L940.06 591.53 L941.55 591.64 L943.03 591.74 L944.5 591.84 L945.96 591.94 L947.41 592.04 L948.85 592.13 L950.28 592.23 L951.7 592.33 L953.11 592.42 L954.5 592.52 L955.88 592.61 L957.25 592.7 L958.6 592.8 L959.94 592.89 L961.27 592.98 L962.58 593.07 L963.87 593.15 L965.15 593.24 L966.4 593.32 L967.65 593.41 L968.87 593.49 L970.08 593.57 L971.26 593.65 L972.43 593.73 L973.58 593.81 L974.7 593.88 L975.81 593.96 L976.89 594.03 L977.95 594.1 L978.99 594.17 L980.01 594.23 L981 594.3 L983.5 594.46 L985.83 594.62 L988.02 594.76 L990.08 594.89 L992 595.01 L993.8 595.13 L995.49 595.24 L997.08 595.33 L998.57 595.43 L999.98 595.51 L1001.32 595.59 L1002.59 595.67 L1003.81 595.74 L1004.98 595.81 L1006.11 595.87 L1007.22 595.94 L1008.31 596 L1009.39 596.06 L1010.46 596.12 L1011.55 596.19 L1012.66 596.25 L1013.79 596.32 L1014.96 596.39 L1016.18 596.46 L1017.45 596.53 L1018.79 596.61 L1020.2 596.7" stroke="#ff0000" stroke-width="2.1"/>
</g>
<g clip-path="url(#c1)" fill="none">
<path d="M77.6 933.19H81V936.34H85.19V905.26H89.37V869.36H93.56V880.65H97.74V893.62H101.93V934.46H106.12V951.79H110.3V914.41H114.49V906.13H118.67V914.34H122.86V915.43H127.05V911.06H131.23V913.62H135.42V933.4H139.6V950.73H143.79V963.83H147.98V944.17H152.16V914.57H156.35V912.96H160.53V919.31H164.72V908H168.91V887.96H173.09V884.88H177.28V903.95H181.46V933.18H185.65V926.54H189.84V913.74H194.02V937.98H198.21V936.09H202.39V897.09H206.58V917.93H210.77V950.4H214.95V917.88H219.14V924.34H223.32V953.4H227.51V925.63H231.7V893.04H235.88V888.33H240.07V902.56H244.25V901.05H248.44V906.04H252.63V944.73H256.81V973.73H261V954.5H265.18V941.05H269.37V942.7H273.56V929.95H277.74V918.3H281.93V905.36H286.11V877.41H290.3V882.27H294.49V905.31H298.67V898.49H302.86V888.77H307.04V898.58H311.23V916.03H315.42V919.61H319.6V911.51H323.79V927.61H327.97V935.88H332.16V893.73H336.35V867.52H340.53V893.7H344.72V901.46H348.9V895.15H353.09V899.82H357.28V864.16H361.46V875.64H365.65V912.74H369.83V905.02H374.02V909.56H378.21V935.75H382.39V935.84H386.58V916.17H390.76V916.28H394.95V919.8H399.14V907H403.32V898.83H407.51V864.71H411.69V840.49H415.88V883.2H420.07V920.9H424.25V913.07H428.44V893.68H432.62V872.82H436.81V876.5H441V933.54H445.18V961.49H449.37V940.63H453.55V921.26H457.74V916.8H461.93V923.64H466.11V920.66H470.3V896.48H474.48V867.24H478.67V861.24H482.86V899.47H487.04V940.74H491.23V943.22H495.41V955.08H499.6V963.92H503.79V932.17H507.97V887.44H512.16V856.23H516.34V839.72H520.53V846.08H524.72V886.24H528.9V922.23H533.09V876.4H537.27V849.6H541.46V881.78H545.65V887.9H549.83V891.1H554.02V883.3H558.2V861.63H562.39V878.21H566.58V913.9H570.76V925.13H574.95V919.14H579.13V922.83H583.32V924.33H587.51V899.93H591.69V910.61H595.88V954.16H600.06V952.53H604.25V924.7H608.44V935.21H612.62V935.1H616.81V894.74H620.99V887.29H625.18V935.11H629.37V955.32H633.55V936.55H637.74V934.16H641.92V910.31H646.11V872.26H650.3V897.2H654.48V938.84H658.67V923.64H662.85V886.81H667.04V887.78H671.23V901.46H675.41V878.48H679.6V864.75H683.78V878.73H687.97V905.74H692.16V918.24H696.34V890.03H700.53V897.39H704.71V945.67H708.9V973.07H713.09V944.72H717.27V886H721.46V891.88H725.64V901.04H729.83V877.83H734.02V872.54H738.2V883.57H742.39V901.08H746.57V918.21H750.76V937.52H754.95V933.81H759.13V915.54H763.32V918.08H767.5V910.02H771.69V915.64H775.88V908.99H780.06V903.34H784.25V920.89H788.43V897.78H792.62V897.41H796.81V937.82H800.99V935.65H805.18V920.7H809.36V931.63H813.55V906.86H817.74V864.3H821.92V845.95H826.11V860.15H830.29V894.07H834.48V883.88H838.67V862.44H842.85V892.96H847.04V938.12H851.22V939.42H855.41V914.58H859.6V891.48H863.78V860.22H867.97V866.4H872.15V908.22H876.34V907.85H880.53V875.18H884.71V851.85H888.9V845.15H893.08V874.22H897.27V920.69H901.46V920.34H905.64V887.57H909.83V879.13H914.01V878.79H918.2V876.52H922.39V871.81H926.57V861.51H930.76V885.5H934.94V903.01H939.13V878.27H943.32V871.56H947.5V901.98H951.69V875.69H955.87V828.15H960.06V839.3H964.25V894.05H968.43V914.64H972.62V892.08H976.8V884.99H980.99V884.68H985.18V860.12H989.36V849.81H993.55V836.74H997.73V860.92H1001.92V896.21H1006.11V873.38H1010.29V894.03H1014.48V935.87H1018.66V913.65H1020.2" stroke="#000" stroke-width="1.1"/>
</g>
<g clip-path="url(#c2)" fill="none">
<path d="M77.6 1167.03H81V1170.09H85.19V1138.99H89.37V1103.09H93.56V1114.27H97.74V1127.11H101.93V1167.76H106.12V1184.96H110.3V1147.58H114.49V1139.22H118.67V1147.33H122.86V1148.32H127.05V1143.87H131.23V1146.34H135.42V1165.97H139.6V1183.18H143.79V1196.15H147.98V1176.45H152.16V1146.83H156.35V1145.13H160.53V1151.38H164.72V1140.01H168.91V1119.93H173.09V1116.76H177.28V1135.69H181.46V1164.74H185.65V1157.97H189.84V1145.06H194.02V1169.11H198.21V1167.09H202.39V1128.04H206.58V1148.7H210.77V1180.95H214.95V1148.37H219.14V1154.68H223.32V1183.53H227.51V1155.69H231.7V1123.05H235.88V1118.21H240.07V1132.27H244.25V1130.63H248.44V1135.46H252.63V1173.93H256.81V1202.72H261V1183.4H265.18V1169.85H269.37V1171.35H273.56V1158.5H277.74V1146.75H281.93V1133.66H286.11V1105.6H290.3V1110.27H294.49V1133.07H298.67V1126.08H302.86V1116.21H307.04V1125.81H311.23V1143.04H315.42V1146.42H319.6V1138.15H323.79V1154.03H327.97V1162.1H332.16V1119.88H336.35V1093.54H340.53V1119.48H344.72V1127.03H348.9V1120.56H353.09V1125.04H357.28V1089.29H361.46V1100.55H365.65V1137.38H369.83V1129.5H374.02V1133.85H378.21V1159.78H382.39V1159.59H386.58V1139.67H390.76V1139.48H394.95V1142.68H399.14V1129.61H403.32V1121.16H407.51V1086.82H411.69V1062.22H415.88V1104.37H420.07V1141.53H424.25V1133.26H428.44V1113.47H432.62V1092.2H436.81V1095.41H441V1151.84H445.18V1179.26H449.37V1157.99H453.55V1138.2H457.74V1133.27H461.93V1139.61H466.11V1136.15H470.3V1111.55H474.48V1081.9H478.67V1075.48H482.86V1112.82H487.04V1153.17H491.23V1154.82H495.41V1165.83H499.6V1173.83H503.79V1141.34H507.97V1095.53H512.16V1062.91H516.34V1045.32H520.53V1050.84H524.72V1089.92H528.9V1122H533.09V1083.2H537.27V1067.6H541.46V1100.98H545.65V1089.1H549.83V1074.53H554.02V1048.29H558.2V1013.73H562.39V1037.07H566.58V1086.69H570.76V1109.16H574.95V1108.76H579.13V1116.3H583.32V1121.04H587.51V1099.61H591.69V1112.46H595.88V1157.59H600.06V1157.37H604.25V1131.02H608.44V1142.65H612.62V1143.64H616.81V1104.47H620.99V1097.85H625.18V1146.25H629.37V1167.1H633.55V1149.07H637.74V1147.38H641.92V1124.29H646.11V1086.91H650.3V1112.38H654.48V1154.5H658.67V1139.93H662.85V1103.78H667.04V1105.22H671.23V1119.29H675.41V1096.77H679.6V1083.49H683.78V1097.83H687.97V1125.18H692.16V1138.05H696.34V1110.31H700.53V1118.06H704.71V1166.55H708.9V1194.16H713.09V1166.16H717.27V1107.86H721.46V1114.01H725.64V1123.42H729.83V1100.55H734.02V1095.48H738.2V1106.69H742.39V1124.37H746.57V1141.66H750.76V1161.13H754.95V1157.67H759.13V1139.73H763.32V1142.54H767.5V1134.79H771.69V1140.68H775.88V1134.33H780.06V1128.95H784.25V1146.64H788.43V1123.78H792.62V1123.6H796.81V1164.09H800.99V1162.12H805.18V1147.4H809.36V1158.49H813.55V1133.96H817.74V1091.69H821.92V1073.57H826.11V1087.93H830.29V1121.96H834.48V1111.98H838.67V1090.78H842.85V1121.41H847.04V1166.65H851.22V1168.13H855.41V1143.54H859.6V1120.68H863.78V1089.69H867.97V1096.04H872.15V1137.94H876.34V1137.76H880.53V1105.36H884.71V1082.24H888.9V1075.72H893.08V1104.87H897.27V1151.39H901.46V1151.21H905.64V1118.68H909.83V1110.42H914.01V1110.24H918.2V1108.14H922.39V1103.6H926.57V1093.49H930.76V1117.58H934.94V1135.21H939.13V1110.68H943.32V1104.16H947.5V1134.66H951.69V1108.6H955.87V1061.33H960.06V1072.62H964.25V1127.4H968.43V1148.1H972.62V1125.75H976.8V1118.84H980.99V1118.67H985.18V1094.29H989.36V1084.13H993.55V1071.22H997.73V1095.47H1001.92V1130.79H1006.11V1108.14H1010.29V1128.86H1014.48V1170.72H1018.66V1148.67H1020.2" stroke="#000" stroke-width="1.1"/>
</g>
<g clip-path="url(#cb)" fill="none" stroke-linejoin="miter">
<path d="M77.6 1870.2H80.3V1882.6H84.13V1859.5H87.97V1841.6H91.8V1861.5H95.64V1882.6H99.47V1859.5H103.31V1832.4H107.14V1813.2H110.98V1823.5H114.81V1855.2H118.65V1836.5H122.48V1798.6H126.32V1800.3H130.16V1783.6H133.99V1783.6H137.82V1838.5H141.66V1861.5H145.5V1817.6H149.33V1790.1H153.16V1806.5H157V1821.5H160.83V1840.5H164.67V1861.5H168.5V1853.5H172.34V1844.8H176.18V1840.5H180.01V1838.5H183.84V1859.5H187.68V1876.2H191.51V1855.2H195.35V1830.1H199.19V1813.1H203.02V1798.4H206.85V1791.8H210.69V1806.3H214.52V1806.3H218.36V1777.3H222.19V1790.1H226.03V1806.3H229.87V1783.6H233.7V1758.4H237.53V1768.6H241.37V1777.3H245.2V1785.6H249.04V1800.3H252.88V1790.1H256.71V1777.3H260.55V1804.2H264.38V1844.1H268.21V1832.4H272.05V1838.5H275.88V1910.2H279.72V1918.1H283.56V1863.7H287.39V1855.2H291.23V1855.2H295.06V1823.5H298.89V1768.6H302.73V1844.5H306.56V1893.2H310.4V1840.5H314.24V1809H318.07V1821.5H321.9V1861.1H325.74V1884.9H329.57V1867.9H333.41V1849H337.25V1846.7H341.08V1849H344.92V1838.5H348.75V1798.4H352.59V1775.4H356.42V1806.5H360.25V1844.5H364.09V1849H367.93V1828H371.76V1840.5H375.6V1899.4H379.43V1914.4H383.26V1882.7H387.1V1840.5H390.94V1838.5H394.77V1867.9H398.61V1863.7H402.44V1836.2H406.28V1829.7H410.11V1844.5H413.94V1855.2H417.78V1878.5H421.62V1907.9H425.45V1872.2H429.29V1829.7H433.12V1859.5H436.95V1884.9H440.79V1859.5H444.62V1827.8H448.46V1794.1H452.3V1766.6H456.13V1772.7H459.97V1817.3H463.8V1860.9H467.63V1863.7H471.47V1840.5H475.31V1813H479.14V1783.5H482.98V1785.4H486.81V1812.8H490.64V1830.1H494.48V1827.3H498.31V1817.3H502.15V1830.1H505.99V1831.8H509.82V1815.1H513.65V1823.3H517.49V1827.3H521.32V1776.9H525.16V1772.9H529V1804.6H532.83V1794.2H536.66V1775H540.5V1785.4H544.33V1804.6H548.17V1804.6H552V1794.2H555.84V1766.7H559.67V1749.7H563.51V1753.7H567.35V1762.2H571.18V1760.2H575.01V1775.3H578.85V1785.6H582.68V1743.4H586.52V1682.5H590.36V1690.4H594.19V1762.4H598.02V1785.6H601.86V1791.8H605.69V1849H609.53V1876.2H613.36V1870.3H617.2V1855.3H621.03V1827.5H624.87V1813.3H628.7V1827.5H632.54V1844.5H636.38V1846.8H640.21V1821.3H644.04V1791.8H647.88V1800.3H651.71V1823.5H655.55V1849H659.38V1864H663.22V1845.1H667.05V1785.6H670.89V1766.5H674.72V1804.6H678.56V1846.7H682.39V1867.8H686.23V1895.2H690.06V1910H693.9V1878.5H697.73V1855.8H701.57V1875.1H705.4V1875.1H709.24V1827.8H713.07V1783.6H716.91V1817.6H720.75V1863.7H724.58V1849H728.41V1836.5H732.25V1861.8H736.08V1895.2H739.92V1931.3H743.75V1916.5H747.59V1887.3H751.42V1876.5H755.26V1863.7H759.09V1863.7H762.93V1840.6H766.76V1872H770.6V1954.2H774.43V1927.2H778.27V1855.6H782.1V1864.1H785.94V1855.6H789.77V1817.6H793.61V1806.6H797.44V1792.1H801.28V1698.4H805.11V1553.2H808.95V1530.3H812.78V1675.2H816.62V1813.1H820.45V1846.7H824.29V1861.6H828.12V1839.5H831.96V1823.7H835.79V1876.2H839.63V1908.3H843.46V1859.7H847.3V1815.4H851.13V1832.4H854.97V1878.2H858.8V1870.3H862.64V1817.6H866.47V1813.4H870.31V1853.1H874.14V1846.8H877.98V1838.5H881.81V1844.8H885.65V1800.6H889.48V1832.3H893.32V1895.1H897.15V1875.6H900.99V1845H904.82V1832.3H908.66V1836.5H912.49V1847H916.33V1813H920.16V1794.2H924V1823.7H927.83V1821.8H931.67V1817.8H935.5V1821.8H939.34V1821.8H943.17V1828H947.01V1813.3H950.84V1828H954.68V1867.6H958.51V1876.1H962.35V1859.7H966.18V1878.4H970.02V1899.3H973.85V1884.5H977.69V1867.8H981.52V1849.2H985.36V1861.4H989.19V1914.1H993.03V1931.2H996.86V1922.9H1000.7V1973.3H1004.53V1996.6H1008.37V1918.6H1012.2V1846.9H1016.04V1846.9H1020.2" stroke="#000" stroke-width="1.1"/>
<path d="M77.6 1844.2 L79.06 1844.25 L80.51 1844.3 L81.97 1844.36 L83.43 1844.41 L84.89 1844.46 L86.35 1844.51 L87.81 1844.57 L89.27 1844.62 L90.73 1844.67 L92.19 1844.73 L93.65 1844.78 L95.12 1844.83 L96.58 1844.88 L98.04 1844.94 L99.5 1844.99 L100.97 1845.04 L102.43 1845.1 L103.9 1845.15 L105.36 1845.2 L106.82 1845.26 L108.29 1845.31 L109.75 1845.36 L111.22 1845.42 L112.68 1845.47 L114.15 1845.52 L115.61 1845.58 L117.07 1845.63 L118.54 1845.68 L120 1845.74 L121.47 1845.79 L122.93 1845.84 L124.39 1845.9 L125.86 1845.95 L127.32 1846 L128.78 1846.05 L130.24 1846.11 L131.71 1846.16 L133.17 1846.21 L134.63 1846.27 L136.09 1846.32 L137.55 1846.37 L139.01 1846.42 L140.47 1846.48 L141.93 1846.53 L143.39 1846.58 L144.84 1846.63 L146.3 1846.69 L147.76 1846.74 L149.21 1846.79 L150.67 1846.84 L152.12 1846.89 L153.57 1846.95 L155.03 1847 L156.48 1847.05 L157.93 1847.1 L159.38 1847.15 L160.83 1847.2 L162.28 1847.25 L163.72 1847.3 L165.17 1847.35 L166.61 1847.4 L168.06 1847.46 L169.5 1847.51 L170.94 1847.56 L172.38 1847.61 L173.82 1847.65 L175.26 1847.7 L176.7 1847.75 L178.13 1847.8 L179.57 1847.85 L181 1847.9 L182.49 1847.95 L183.99 1848 L185.48 1848.05 L186.97 1848.1 L188.46 1848.15 L189.95 1848.21 L191.43 1848.26 L192.92 1848.31 L194.4 1848.36 L195.89 1848.41 L197.37 1848.46 L198.85 1848.51 L200.33 1848.56 L201.81 1848.61 L203.29 1848.66 L204.76 1848.71 L206.24 1848.77 L207.71 1848.82 L209.19 1848.87 L210.66 1848.92 L212.13 1848.97 L213.6 1849.02 L215.08 1849.07 L216.55 1849.12 L218.01 1849.17 L219.48 1849.22 L220.95 1849.27 L222.42 1849.32 L223.89 1849.37 L225.35 1849.42 L226.82 1849.47 L228.28 1849.52 L229.75 1849.56 L231.21 1849.61 L232.68 1849.66 L234.14 1849.71 L235.6 1849.76 L237.07 1849.8 L238.53 1849.85 L239.99 1849.9 L241.46 1849.95 L242.92 1849.99 L244.38 1850.04 L245.84 1850.09 L247.31 1850.13 L248.77 1850.18 L250.23 1850.22 L251.69 1850.27 L253.15 1850.31 L254.62 1850.36 L256.08 1850.4 L257.54 1850.45 L259.01 1850.49 L260.47 1850.53 L261.93 1850.58 L263.4 1850.62 L264.86 1850.66 L266.33 1850.7 L267.79 1850.75 L269.26 1850.79 L270.72 1850.83 L272.19 1850.87 L273.66 1850.91 L275.12 1850.95 L276.59 1850.99 L278.06 1851.02 L279.53 1851.06 L281 1851.1 L282.5 1851.14 L284.01 1851.18 L285.52 1851.21 L287.05 1851.25 L288.59 1851.29 L290.13 1851.33 L291.68 1851.37 L293.24 1851.4 L294.81 1851.44 L296.38 1851.48 L297.96 1851.51 L299.55 1851.55 L301.14 1851.59 L302.73 1851.63 L304.33 1851.66 L305.93 1851.7 L307.54 1851.73 L309.14 1851.77 L310.75 1851.81 L312.36 1851.84 L313.98 1851.88 L315.59 1851.91 L317.2 1851.95 L318.81 1851.98 L320.43 1852.01 L322.04 1852.05 L323.64 1852.08 L325.25 1852.11 L326.85 1852.15 L328.46 1852.18 L330.05 1852.21 L331.64 1852.24 L333.23 1852.27 L334.82 1852.3 L336.39 1852.33 L337.96 1852.36 L339.53 1852.39 L341.09 1852.42 L342.64 1852.45 L344.18 1852.48 L345.71 1852.5 L347.23 1852.53 L348.75 1852.56 L350.25 1852.58 L351.75 1852.61 L353.23 1852.63 L354.7 1852.66 L356.16 1852.68 L357.61 1852.7 L359.05 1852.73 L360.47 1852.75 L361.88 1852.77 L363.27 1852.79 L364.65 1852.81 L366.01 1852.83 L367.36 1852.85 L368.69 1852.86 L370 1852.88 L371.3 1852.9 L372.58 1852.91 L373.84 1852.93 L375.08 1852.94 L376.31 1852.95 L377.51 1852.97 L378.69 1852.98 L379.86 1852.99 L381 1853 L383.19 1853.02 L385.31 1853.03 L387.36 1853.04 L389.34 1853.05 L391.25 1853.05 L393.11 1853.05 L394.9 1853.05 L396.64 1853.05 L398.33 1853.04 L399.97 1853.03 L401.57 1853.02 L403.12 1853 L404.63 1852.98 L406.1 1852.97 L407.54 1852.95 L408.95 1852.92 L410.34 1852.9 L411.7 1852.88 L413.03 1852.85 L414.35 1852.82 L415.65 1852.79 L416.94 1852.76 L418.23 1852.73 L419.5 1852.7 L420.77 1852.67 L422.05 1852.64 L423.32 1852.61 L424.61 1852.58 L425.9 1852.55 L427.2 1852.52 L428.52 1852.49 L429.86 1852.46 L431.22 1852.43 L432.6 1852.4 L434.24 1852.37 L435.88 1852.33 L437.53 1852.3 L439.18 1852.26 L440.82 1852.23 L442.46 1852.19 L444.1 1852.16 L445.74 1852.12 L447.36 1852.08 L448.98 1852.04 L450.59 1852 L452.18 1851.96 L453.76 1851.92 L455.33 1851.88 L456.88 1851.83 L458.41 1851.79 L459.92 1851.74 L461.42 1851.7 L462.89 1851.65 L464.33 1851.6 L465.75 1851.55 L467.14 1851.5 L468.51 1851.45 L469.84 1851.39 L471.14 1851.34 L472.41 1851.28 L473.64 1851.22 L474.84 1851.16 L476 1851.1 L478 1850.99 L479.87 1850.87 L481.62 1850.75 L483.27 1850.63 L484.82 1850.51 L486.28 1850.38 L487.68 1850.25 L489.01 1850.11 L490.28 1849.97 L491.52 1849.82 L492.73 1849.67 L493.92 1849.51 L495.1 1849.34 L496.28 1849.17 L497.48 1848.99 L498.7 1848.8 L500.21 1848.55 L501.67 1848.29 L503.11 1848.01 L504.51 1847.72 L505.87 1847.42 L507.2 1847.11 L508.5 1846.8 L509.76 1846.48 L511 1846.16 L512.19 1845.84 L513.36 1845.52 L514.5 1845.21 L515.6 1844.9 L516.98 1844.51 L518.29 1844.13 L519.53 1843.76 L520.72 1843.39 L521.86 1843.01 L522.96 1842.63 L524.01 1842.23 L525.03 1841.81 L526.03 1841.37 L527 1840.9 L528.04 1840.37 L529.03 1839.83 L529.97 1839.29 L530.87 1838.73 L531.73 1838.14 L532.56 1837.5 L533.36 1836.8 L534.14 1836.04 L534.9 1835.2 L535.56 1834.36 L536.18 1833.45 L536.77 1832.47 L537.34 1831.44 L537.89 1830.38 L538.43 1829.3 L538.97 1828.2 L539.5 1827.11 L540.04 1826.04 L540.6 1825 L541.16 1823.98 L541.73 1822.96 L542.29 1821.94 L542.85 1820.92 L543.41 1819.9 L543.96 1818.88 L544.52 1817.86 L545.08 1816.84 L545.64 1815.82 L546.2 1814.8 L546.95 1815.68 L547.7 1816.49 L548.44 1817.29 L549.19 1818.17 L549.94 1819.21 L550.7 1820.5 L551.15 1821.43 L551.58 1822.48 L552 1823.62 L552.43 1824.82 L552.86 1826.07 L553.3 1827.33 L553.76 1828.58 L554.24 1829.79 L554.75 1830.94 L555.3 1832 L555.88 1832.99 L556.46 1833.96 L557.07 1834.89 L557.7 1835.8 L558.35 1836.68 L559.03 1837.53 L559.74 1838.35 L560.49 1839.13 L561.27 1839.88 L562.1 1840.6 L562.99 1841.28 L563.95 1841.92 L564.96 1842.52 L566.01 1843.1 L567.08 1843.64 L568.16 1844.15 L569.24 1844.64 L570.3 1845.11 L571.33 1845.56 L572.3 1846 L573.64 1846.59 L574.97 1847.13 L576.26 1847.62 L577.52 1848.07 L578.73 1848.48 L579.9 1848.86 L581 1849.2 L582.24 1849.56 L583.18 1849.79 L584.12 1849.98 L585.39 1850.21 L587.3 1850.6 L588.26 1850.8 L589.33 1851.03 L590.49 1851.29 L591.74 1851.56 L593.06 1851.85 L594.43 1852.14 L595.84 1852.44 L597.27 1852.75 L598.72 1853.04 L600.16 1853.33 L601.58 1853.61 L602.96 1853.86 L604.3 1854.1 L605.7 1854.33 L607.07 1854.55 L608.42 1854.75 L609.76 1854.94 L611.09 1855.12 L612.44 1855.29 L613.81 1855.47 L615.21 1855.64 L616.65 1855.82 L618.14 1856 L619.68 1856.19 L621.3 1856.4 L622.49 1856.55 L623.71 1856.71 L624.97 1856.87 L626.25 1857.04 L627.56 1857.21 L628.89 1857.38 L630.25 1857.55 L631.61 1857.73 L632.99 1857.9 L634.38 1858.07 L635.77 1858.24 L637.16 1858.41 L638.55 1858.58 L639.93 1858.74 L641.3 1858.9 L642.66 1859.05 L644 1859.2 L645.43 1859.35 L646.89 1859.5 L648.36 1859.66 L649.85 1859.8 L651.35 1859.95 L652.84 1860.1 L654.34 1860.24 L655.82 1860.38 L657.29 1860.51 L658.73 1860.64 L660.15 1860.76 L661.53 1860.88 L662.87 1861 L664.17 1861.1 L665.41 1861.21 L666.6 1861.3 L668.33 1861.43 L669.86 1861.54 L671.24 1861.63 L672.52 1861.71 L673.76 1861.77 L674.99 1861.84 L676.28 1861.89 L677.68 1861.95 L679.24 1862.02 L681 1862.1 L682.19 1862.16 L683.4 1862.22 L684.64 1862.29 L685.91 1862.36 L687.21 1862.43 L688.54 1862.5 L689.91 1862.57 L691.32 1862.64 L692.77 1862.71 L694.26 1862.78 L695.8 1862.83 L697.39 1862.89 L699.04 1862.93 L700.73 1862.96 L702.49 1862.99 L704.3 1863 L705.57 1863 L706.9 1863 L708.31 1863 L709.76 1862.99 L711.27 1862.98 L712.82 1862.97 L714.41 1862.95 L716.02 1862.93 L717.66 1862.91 L719.31 1862.89 L720.97 1862.86 L722.62 1862.83 L724.28 1862.8 L725.91 1862.76 L727.53 1862.73 L729.12 1862.69 L730.68 1862.65 L732.19 1862.6 L733.66 1862.56 L735.06 1862.51 L736.41 1862.46 L737.69 1862.41 L738.88 1862.36 L740 1862.3 L742.19 1862.17 L744.13 1862.03 L745.83 1861.88 L747.35 1861.71 L748.71 1861.54 L749.96 1861.36 L751.13 1861.16 L752.25 1860.96 L753.36 1860.75 L754.5 1860.53 L755.7 1860.3 L757.2 1860.01 L758.64 1859.72 L760.04 1859.41 L761.38 1859.09 L762.68 1858.75 L763.93 1858.39 L765.13 1858.02 L766.29 1857.62 L767.4 1857.2 L768.57 1856.7 L769.64 1856.18 L770.65 1855.62 L771.59 1855.05 L772.51 1854.45 L773.42 1853.83 L774.34 1853.18 L775.3 1852.5 L776.18 1851.88 L777.08 1851.24 L777.99 1850.57 L778.9 1849.89 L779.8 1849.19 L780.67 1848.47 L781.52 1847.73 L782.33 1846.97 L783.1 1846.2 L783.9 1845.32 L784.66 1844.45 L785.37 1843.56 L786.04 1842.64 L786.7 1841.68 L787.34 1840.67 L787.97 1839.58 L788.6 1838.4 L789.06 1837.48 L789.52 1836.5 L789.98 1835.47 L790.44 1834.4 L790.88 1833.3 L791.32 1832.18 L791.74 1831.05 L792.16 1829.92 L792.55 1828.79 L792.94 1827.68 L793.3 1826.6 L793.72 1825.32 L794.11 1824.07 L794.48 1822.84 L794.83 1821.61 L795.16 1820.37 L795.48 1819.09 L795.79 1817.77 L796.1 1816.38 L796.4 1814.9 L796.63 1813.73 L796.85 1812.51 L797.07 1811.26 L797.29 1809.96 L797.5 1808.64 L797.7 1807.3 L797.9 1805.94 L798.09 1804.58 L798.28 1803.22 L798.46 1801.86 L798.63 1800.52 L798.8 1799.2 L798.97 1797.8 L799.13 1796.45 L799.28 1795.13 L799.42 1793.82 L799.56 1792.5 L799.69 1791.16 L799.81 1789.78 L799.94 1788.34 L800.06 1786.83 L800.18 1785.22 L800.3 1783.5 L800.38 1782.29 L800.46 1781.12 L800.54 1779.95 L800.61 1778.79 L800.69 1777.62 L800.76 1776.42 L800.83 1775.19 L800.9 1773.89 L800.97 1772.54 L801.04 1771.1 L801.11 1769.56 L801.19 1767.92 L801.26 1766.16 L801.34 1764.26 L801.42 1762.21 L801.5 1760 L801.54 1758.9 L801.58 1757.78 L801.62 1756.63 L801.66 1755.45 L801.7 1754.25 L801.74 1753.02 L801.78 1751.76 L801.82 1750.48 L801.86 1749.18 L801.9 1747.85 L801.95 1746.49 L801.99 1745.12 L802.03 1743.72 L802.07 1742.3 L802.11 1740.85 L802.16 1739.39 L802.2 1737.91 L802.24 1736.4 L802.29 1734.88 L802.33 1733.33 L802.38 1731.77 L802.42 1730.19 L802.47 1728.6 L802.51 1726.98 L802.56 1725.35 L802.61 1723.7 L802.65 1722.04 L802.7 1720.36 L802.75 1718.67 L802.8 1716.96 L802.85 1715.24 L802.9 1713.51 L802.95 1711.76 L803 1710 L803.04 1708.74 L803.07 1707.47 L803.11 1706.17 L803.15 1704.87 L803.19 1703.54 L803.23 1702.21 L803.27 1700.86 L803.3 1699.49 L803.34 1698.11 L803.38 1696.72 L803.42 1695.32 L803.46 1693.91 L803.51 1692.48 L803.55 1691.05 L803.59 1689.6 L803.63 1688.15 L803.67 1686.69 L803.71 1685.21 L803.76 1683.74 L803.8 1682.25 L803.84 1680.76 L803.88 1679.26 L803.93 1677.76 L803.97 1676.25 L804.01 1674.74 L804.05 1673.22 L804.1 1671.7 L804.14 1670.18 L804.18 1668.65 L804.23 1667.13 L804.27 1665.6 L804.31 1664.07 L804.36 1662.55 L804.4 1661.02 L804.44 1659.49 L804.49 1657.97 L804.53 1656.45 L804.57 1654.93 L804.62 1653.41 L804.66 1651.9 L804.7 1650.39 L804.75 1648.89 L804.79 1647.39 L804.83 1645.9 L804.87 1644.41 L804.92 1642.93 L804.96 1641.46 L805 1640 L805.9 1584.6 L807.6 1555.3 L810.8 1535 L812.9 1555.3 L813.8 1584.6 L814.7 1640 L814.74 1641.48 L814.77 1642.97 L814.81 1644.47 L814.84 1645.97 L814.88 1647.47 L814.91 1648.98 L814.95 1650.49 L814.98 1652.01 L815.02 1653.52 L815.05 1655.05 L815.09 1656.57 L815.13 1658.09 L815.16 1659.62 L815.2 1661.15 L815.23 1662.68 L815.27 1664.21 L815.3 1665.75 L815.34 1667.28 L815.38 1668.81 L815.41 1670.34 L815.45 1671.87 L815.48 1673.4 L815.52 1674.93 L815.56 1676.46 L815.59 1677.99 L815.63 1679.51 L815.66 1681.03 L815.7 1682.55 L815.73 1684.06 L815.77 1685.58 L815.8 1687.08 L815.84 1688.59 L815.88 1690.09 L815.91 1691.58 L815.95 1693.07 L815.98 1694.56 L816.02 1696.03 L816.05 1697.51 L816.09 1698.97 L816.12 1700.43 L816.16 1701.89 L816.19 1703.33 L816.23 1704.77 L816.26 1706.2 L816.29 1707.62 L816.33 1709.04 L816.36 1710.44 L816.4 1711.84 L816.43 1713.22 L816.47 1714.6 L816.5 1715.96 L816.53 1717.32 L816.57 1718.67 L816.6 1720 L816.64 1721.67 L816.68 1723.34 L816.72 1725 L816.76 1726.66 L816.8 1728.32 L816.84 1729.98 L816.87 1731.63 L816.91 1733.28 L816.94 1734.93 L816.98 1736.56 L817.01 1738.19 L817.05 1739.82 L817.08 1741.44 L817.12 1743.04 L817.15 1744.64 L817.19 1746.23 L817.22 1747.81 L817.25 1749.38 L817.29 1750.94 L817.32 1752.49 L817.36 1754.02 L817.39 1755.55 L817.43 1757.06 L817.46 1758.55 L817.5 1760.03 L817.54 1761.49 L817.57 1762.94 L817.61 1764.38 L817.65 1765.79 L817.69 1767.19 L817.73 1768.57 L817.77 1769.93 L817.81 1771.27 L817.86 1772.6 L817.9 1773.9 L817.95 1775.18 L817.99 1776.44 L818.04 1777.67 L818.09 1778.89 L818.14 1780.08 L818.19 1781.24 L818.24 1782.38 L818.3 1783.5 L818.41 1785.52 L818.52 1787.45 L818.63 1789.3 L818.75 1791.06 L818.87 1792.76 L818.99 1794.38 L819.11 1795.93 L819.24 1797.42 L819.37 1798.85 L819.51 1800.23 L819.64 1801.55 L819.78 1802.83 L819.92 1804.06 L820.06 1805.25 L820.21 1806.41 L820.35 1807.54 L820.5 1808.64 L820.65 1809.72 L820.8 1810.78 L820.95 1811.82 L821.1 1812.85 L821.25 1813.88 L821.4 1814.9 L821.69 1816.76 L821.98 1818.45 L822.26 1819.98 L822.55 1821.38 L822.85 1822.67 L823.15 1823.88 L823.46 1825.01 L823.79 1826.11 L824.14 1827.18 L824.5 1828.26 L824.89 1829.36 L825.3 1830.5 L825.74 1831.66 L826.19 1832.8 L826.67 1833.92 L827.17 1835.01 L827.68 1836.08 L828.21 1837.14 L828.75 1838.17 L829.3 1839.19 L829.86 1840.19 L830.44 1841.17 L831.01 1842.14 L831.6 1843.1 L832.18 1844.04 L832.77 1844.96 L833.35 1845.86 L833.94 1846.74 L834.54 1847.6 L835.16 1848.45 L835.79 1849.28 L836.45 1850.11 L837.13 1850.92 L837.85 1851.72 L838.61 1852.51 L839.4 1853.3 L840.17 1854.02 L840.96 1854.73 L841.77 1855.44 L842.61 1856.14 L843.47 1856.83 L844.35 1857.51 L845.26 1858.18 L846.2 1858.83 L847.15 1859.48 L848.13 1860.11 L849.13 1860.72 L850.15 1861.32 L851.2 1861.9 L852.2 1862.43 L853.24 1862.94 L854.31 1863.45 L855.4 1863.94 L856.52 1864.42 L857.66 1864.89 L858.81 1865.34 L859.97 1865.79 L861.14 1866.22 L862.31 1866.64 L863.47 1867.05 L864.63 1867.45 L865.77 1867.83 L866.9 1868.2 L868.2 1868.61 L869.5 1868.99 L870.8 1869.35 L872.09 1869.69 L873.38 1870.02 L874.67 1870.33 L875.97 1870.62 L877.27 1870.92 L878.57 1871.21 L879.87 1871.5 L881.18 1871.8 L882.5 1872.1 L883.7 1872.38 L884.88 1872.66 L886.05 1872.93 L887.2 1873.19 L888.36 1873.46 L889.52 1873.72 L890.7 1873.98 L891.9 1874.24 L893.14 1874.51 L894.42 1874.77 L895.75 1875.04 L897.14 1875.32 L898.6 1875.6 L899.76 1875.82 L900.97 1876.05 L902.21 1876.28 L903.49 1876.51 L904.79 1876.75 L906.12 1876.99 L907.48 1877.23 L908.85 1877.47 L910.23 1877.71 L911.62 1877.95 L913.02 1878.18 L914.42 1878.41 L915.82 1878.64 L917.21 1878.87 L918.59 1879.08 L919.95 1879.3 L921.3 1879.5 L922.64 1879.7 L924.01 1879.89 L925.38 1880.09 L926.76 1880.28 L928.15 1880.47 L929.54 1880.65 L930.93 1880.83 L932.32 1881.01 L933.69 1881.18 L935.06 1881.35 L936.41 1881.51 L937.74 1881.67 L939.05 1881.83 L940.34 1881.98 L941.59 1882.12 L942.81 1882.26 L944 1882.4 L945.6 1882.58 L947.12 1882.76 L948.56 1882.92 L949.95 1883.07 L951.29 1883.22 L952.62 1883.36 L953.94 1883.48 L955.26 1883.6 L956.62 1883.71 L958.01 1883.82 L959.47 1883.91 L961 1884 L962.4 1884.06 L963.88 1884.11 L965.43 1884.15 L967.03 1884.18 L968.66 1884.2 L970.3 1884.22 L971.94 1884.23 L973.56 1884.24 L975.14 1884.25 L976.66 1884.27 L978.1 1884.29 L979.45 1884.32 L980.69 1884.35 L981.8 1884.4 L983.65 1884.53 L984.69 1884.67 L985.37 1884.83 L986.18 1885.01 L987.6 1885.23 L990.1 1885.5 L991.06 1885.59 L992.12 1885.68 L993.26 1885.77 L994.47 1885.88 L995.76 1885.98 L997.11 1886.09 L998.52 1886.2 L999.98 1886.32 L1001.47 1886.44 L1003.01 1886.56 L1004.57 1886.68 L1006.16 1886.8 L1007.75 1886.93 L1009.36 1887.05 L1010.96 1887.18 L1012.56 1887.3 L1014.15 1887.42 L1015.71 1887.55 L1017.24 1887.67 L1018.74 1887.78 L1020.2 1887.9" stroke="#0000ff" stroke-width="2.1"/>
<path d="M77.6 1840.3 L79.08 1840.34 L80.56 1840.38 L82.03 1840.42 L83.51 1840.46 L84.99 1840.5 L86.47 1840.54 L87.96 1840.58 L89.44 1840.62 L90.92 1840.66 L92.4 1840.7 L93.88 1840.74 L95.37 1840.78 L96.85 1840.82 L98.33 1840.86 L99.82 1840.9 L101.3 1840.95 L102.79 1840.99 L104.27 1841.03 L105.76 1841.07 L107.24 1841.11 L108.73 1841.15 L110.21 1841.2 L111.7 1841.24 L113.18 1841.28 L114.67 1841.32 L116.15 1841.36 L117.64 1841.41 L119.12 1841.45 L120.61 1841.49 L122.09 1841.53 L123.58 1841.57 L125.06 1841.61 L126.55 1841.66 L128.03 1841.7 L129.51 1841.74 L131 1841.78 L132.48 1841.82 L133.96 1841.86 L135.44 1841.9 L136.92 1841.94 L138.4 1841.98 L139.88 1842.02 L141.36 1842.06 L142.84 1842.1 L144.32 1842.14 L145.8 1842.18 L147.28 1842.22 L148.75 1842.25 L150.23 1842.29 L151.7 1842.33 L153.18 1842.37 L154.65 1842.41 L156.13 1842.44 L157.6 1842.48 L159.07 1842.51 L160.54 1842.55 L162.01 1842.58 L163.47 1842.62 L164.94 1842.65 L166.41 1842.69 L167.87 1842.72 L169.34 1842.75 L170.8 1842.79 L172.26 1842.82 L173.72 1842.85 L175.18 1842.88 L176.64 1842.91 L178.09 1842.94 L179.55 1842.97 L181 1843 L182.52 1843.03 L184.03 1843.06 L185.55 1843.09 L187.06 1843.12 L188.57 1843.14 L190.08 1843.17 L191.59 1843.2 L193.1 1843.23 L194.6 1843.25 L196.11 1843.28 L197.61 1843.31 L199.12 1843.33 L200.62 1843.36 L202.12 1843.38 L203.62 1843.41 L205.12 1843.43 L206.61 1843.46 L208.11 1843.48 L209.61 1843.5 L211.1 1843.53 L212.59 1843.55 L214.09 1843.57 L215.58 1843.59 L217.07 1843.61 L218.56 1843.64 L220.05 1843.66 L221.54 1843.68 L223.03 1843.7 L224.52 1843.72 L226.01 1843.74 L227.5 1843.76 L228.98 1843.78 L230.47 1843.8 L231.96 1843.82 L233.44 1843.83 L234.93 1843.85 L236.41 1843.87 L237.9 1843.89 L239.38 1843.91 L240.87 1843.92 L242.35 1843.94 L243.83 1843.96 L245.32 1843.97 L246.8 1843.99 L248.29 1844.01 L249.77 1844.02 L251.26 1844.04 L252.74 1844.05 L254.22 1844.07 L255.71 1844.08 L257.19 1844.1 L258.68 1844.11 L260.16 1844.12 L261.65 1844.14 L263.13 1844.15 L264.62 1844.17 L266.11 1844.18 L267.59 1844.19 L269.08 1844.2 L270.57 1844.22 L272.06 1844.23 L273.55 1844.24 L275.04 1844.25 L276.53 1844.27 L278.02 1844.28 L279.51 1844.29 L281 1844.3 L282.52 1844.31 L284.05 1844.32 L285.59 1844.33 L287.14 1844.35 L288.7 1844.36 L290.27 1844.37 L291.85 1844.38 L293.43 1844.39 L295.02 1844.4 L296.62 1844.41 L298.23 1844.43 L299.84 1844.44 L301.45 1844.45 L303.07 1844.46 L304.69 1844.47 L306.32 1844.48 L307.95 1844.49 L309.58 1844.5 L311.22 1844.51 L312.85 1844.52 L314.49 1844.53 L316.13 1844.54 L317.76 1844.55 L319.4 1844.56 L321.04 1844.57 L322.67 1844.58 L324.3 1844.58 L325.93 1844.59 L327.56 1844.6 L329.18 1844.61 L330.8 1844.61 L332.42 1844.62 L334.03 1844.62 L335.63 1844.63 L337.23 1844.64 L338.82 1844.64 L340.4 1844.64 L341.98 1844.65 L343.55 1844.65 L345.11 1844.65 L346.66 1844.66 L348.2 1844.66 L349.73 1844.66 L351.25 1844.66 L352.76 1844.66 L354.26 1844.66 L355.75 1844.66 L357.22 1844.66 L358.68 1844.65 L360.12 1844.65 L361.56 1844.65 L362.97 1844.64 L364.38 1844.64 L365.76 1844.63 L367.13 1844.62 L368.49 1844.62 L369.83 1844.61 L371.14 1844.6 L372.45 1844.59 L373.73 1844.58 L374.99 1844.57 L376.23 1844.56 L377.46 1844.54 L378.66 1844.53 L379.84 1844.52 L381 1844.5 L383.13 1844.47 L385.2 1844.43 L387.22 1844.39 L389.17 1844.35 L391.07 1844.31 L392.91 1844.26 L394.7 1844.2 L396.44 1844.15 L398.13 1844.09 L399.78 1844.03 L401.39 1843.97 L402.95 1843.91 L404.48 1843.84 L405.97 1843.77 L407.42 1843.7 L408.85 1843.63 L410.24 1843.56 L411.6 1843.49 L412.94 1843.41 L414.26 1843.34 L415.55 1843.26 L416.82 1843.18 L418.08 1843.11 L419.32 1843.03 L420.55 1842.95 L421.77 1842.87 L422.98 1842.8 L424.18 1842.72 L425.38 1842.64 L426.58 1842.57 L427.77 1842.49 L428.97 1842.42 L430.17 1842.34 L431.38 1842.27 L432.6 1842.2 L434.37 1842.1 L436.11 1841.99 L437.83 1841.89 L439.51 1841.78 L441.17 1841.67 L442.8 1841.56 L444.39 1841.45 L445.96 1841.34 L447.5 1841.23 L449.01 1841.11 L450.48 1841 L451.93 1840.89 L453.34 1840.78 L454.71 1840.66 L456.06 1840.55 L457.37 1840.44 L458.65 1840.33 L459.89 1840.22 L461.1 1840.11 L462.27 1840.01 L463.41 1839.9 L464.51 1839.8 L465.57 1839.7 L466.6 1839.6 L468.82 1839.38 L470.68 1839.17 L472.26 1838.97 L473.61 1838.79 L474.82 1838.6 L475.94 1838.41 L477.05 1838.21 L478.22 1838 L479.51 1837.76 L481 1837.5 L482.18 1837.3 L483.41 1837.08 L484.69 1836.86 L486 1836.62 L487.34 1836.38 L488.69 1836.13 L490.04 1835.88 L491.39 1835.63 L492.72 1835.37 L494.01 1835.11 L495.27 1834.85 L496.48 1834.6 L497.62 1834.35 L498.7 1834.1 L500.24 1833.74 L501.64 1833.4 L502.94 1833.07 L504.16 1832.74 L505.33 1832.4 L506.47 1832.04 L507.61 1831.64 L508.78 1831.2 L510 1830.7 L511.04 1830.25 L512.08 1829.76 L513.14 1829.24 L514.2 1828.7 L515.26 1828.14 L516.31 1827.56 L517.35 1826.96 L518.38 1826.35 L519.38 1825.74 L520.36 1825.12 L521.3 1824.5 L522.22 1823.87 L523.14 1823.23 L524.04 1822.58 L524.92 1821.92 L525.78 1821.25 L526.62 1820.57 L527.44 1819.88 L528.23 1819.19 L528.99 1818.49 L529.71 1817.8 L530.4 1817.1 L531.27 1816.17 L532.07 1815.27 L532.8 1814.38 L533.48 1813.47 L534.13 1812.52 L534.75 1811.51 L535.37 1810.41 L536 1809.2 L536.46 1808.24 L536.91 1807.21 L537.36 1806.12 L537.8 1804.99 L538.23 1803.83 L538.65 1802.64 L539.06 1801.44 L539.46 1800.23 L539.85 1799.03 L540.23 1797.85 L540.6 1796.7 L540.99 1795.43 L541.38 1794.11 L541.75 1792.78 L542.1 1791.44 L542.45 1790.11 L542.78 1788.8 L543.11 1787.55 L543.42 1786.35 L543.71 1785.23 L544 1784.2 L544.44 1782.72 L544.82 1781.46 L545.18 1780.36 L545.51 1779.33 L545.85 1778.3 L546.2 1777.2 L546.69 1778.33 L547.17 1779.42 L547.66 1780.49 L548.14 1781.59 L548.63 1782.75 L549.11 1784.01 L549.6 1785.4 L549.94 1786.46 L550.26 1787.59 L550.59 1788.77 L550.91 1790 L551.23 1791.26 L551.56 1792.55 L551.9 1793.86 L552.25 1795.18 L552.62 1796.49 L553 1797.8 L553.33 1798.91 L553.66 1800.05 L553.99 1801.22 L554.33 1802.41 L554.68 1803.61 L555.04 1804.81 L555.41 1805.99 L555.79 1807.16 L556.19 1808.29 L556.6 1809.38 L557.04 1810.42 L557.5 1811.4 L558.08 1812.5 L558.69 1813.54 L559.33 1814.53 L560 1815.47 L560.68 1816.38 L561.38 1817.24 L562.1 1818.08 L562.83 1818.9 L563.56 1819.7 L564.3 1820.5 L565.13 1821.37 L565.98 1822.2 L566.85 1823 L567.73 1823.77 L568.63 1824.51 L569.54 1825.24 L570.45 1825.94 L571.37 1826.63 L572.3 1827.3 L573.25 1827.96 L574.23 1828.61 L575.24 1829.25 L576.25 1829.87 L577.26 1830.46 L578.25 1831.03 L579.21 1831.56 L580.13 1832.05 L581 1832.5 L582.24 1833.12 L583.18 1833.52 L584.12 1833.87 L585.39 1834.31 L587.3 1835 L588.12 1835.31 L589.03 1835.65 L590.02 1836.02 L591.07 1836.42 L592.17 1836.84 L593.33 1837.28 L594.52 1837.73 L595.75 1838.18 L596.99 1838.64 L598.24 1839.09 L599.49 1839.53 L600.73 1839.96 L601.95 1840.36 L603.14 1840.75 L604.3 1841.1 L605.5 1841.45 L606.68 1841.79 L607.84 1842.11 L608.99 1842.41 L610.14 1842.71 L611.29 1842.99 L612.44 1843.27 L613.62 1843.54 L614.81 1843.8 L616.03 1844.06 L617.28 1844.32 L618.57 1844.58 L619.91 1844.84 L621.3 1845.1 L622.49 1845.32 L623.71 1845.53 L624.97 1845.74 L626.25 1845.95 L627.56 1846.16 L628.89 1846.37 L630.25 1846.57 L631.61 1846.77 L632.99 1846.97 L634.38 1847.17 L635.77 1847.37 L637.16 1847.56 L638.55 1847.75 L639.93 1847.94 L641.3 1848.13 L642.66 1848.32 L644 1848.5 L645.43 1848.69 L646.89 1848.89 L648.36 1849.08 L649.85 1849.28 L651.35 1849.47 L652.84 1849.66 L654.34 1849.85 L655.82 1850.03 L657.29 1850.21 L658.73 1850.39 L660.15 1850.56 L661.53 1850.72 L662.87 1850.88 L664.17 1851.03 L665.41 1851.17 L666.6 1851.3 L668.36 1851.49 L669.95 1851.65 L671.42 1851.79 L672.79 1851.91 L674.11 1852.02 L675.4 1852.13 L676.7 1852.24 L678.04 1852.34 L679.46 1852.46 L681 1852.6 L682.35 1852.73 L683.72 1852.86 L685.11 1853 L686.52 1853.14 L687.96 1853.29 L689.42 1853.43 L690.9 1853.57 L692.41 1853.71 L693.94 1853.85 L695.5 1853.98 L697.09 1854.09 L698.7 1854.2 L700.11 1854.28 L701.57 1854.37 L703.05 1854.44 L704.56 1854.52 L706.09 1854.59 L707.64 1854.65 L709.21 1854.71 L710.77 1854.77 L712.34 1854.82 L713.9 1854.87 L715.46 1854.91 L716.99 1854.95 L718.51 1854.98 L720 1855 L721.59 1855.02 L723.19 1855.04 L724.79 1855.06 L726.39 1855.07 L727.98 1855.07 L729.56 1855.07 L731.13 1855.06 L732.68 1855.05 L734.21 1855.02 L735.7 1854.98 L737.17 1854.93 L738.61 1854.87 L740 1854.8 L741.6 1854.7 L743.17 1854.59 L744.7 1854.46 L746.19 1854.32 L747.65 1854.16 L749.08 1853.99 L750.47 1853.81 L751.82 1853.61 L753.15 1853.39 L754.44 1853.15 L755.7 1852.9 L757.05 1852.59 L758.36 1852.26 L759.62 1851.89 L760.85 1851.51 L762.04 1851.11 L763.19 1850.69 L764.3 1850.27 L765.37 1849.84 L766.4 1849.42 L767.4 1849 L768.57 1848.49 L769.64 1847.98 L770.65 1847.47 L771.59 1846.94 L772.51 1846.4 L773.42 1845.84 L774.34 1845.24 L775.3 1844.6 L776.18 1844 L777.08 1843.38 L777.99 1842.73 L778.9 1842.06 L779.8 1841.37 L780.67 1840.66 L781.52 1839.93 L782.33 1839.17 L783.1 1838.4 L783.9 1837.52 L784.66 1836.63 L785.37 1835.73 L786.04 1834.79 L786.7 1833.82 L787.34 1832.78 L787.97 1831.68 L788.6 1830.5 L789.11 1829.48 L789.62 1828.4 L790.12 1827.27 L790.61 1826.1 L791.1 1824.89 L791.57 1823.67 L792.03 1822.44 L792.48 1821.21 L792.9 1819.99 L793.3 1818.8 L793.72 1817.51 L794.11 1816.26 L794.48 1815.02 L794.83 1813.78 L795.16 1812.52 L795.48 1811.23 L795.79 1809.89 L796.1 1808.48 L796.4 1807 L796.63 1805.83 L796.85 1804.61 L797.07 1803.35 L797.29 1802.05 L797.5 1800.73 L797.7 1799.39 L797.9 1798.03 L798.09 1796.67 L798.28 1795.31 L798.46 1793.96 L798.63 1792.62 L798.8 1791.3 L798.97 1789.88 L799.13 1788.46 L799.28 1787.04 L799.42 1785.62 L799.56 1784.21 L799.69 1782.79 L799.81 1781.38 L799.94 1779.96 L800.06 1778.54 L800.18 1777.12 L800.3 1775.7 L800.42 1774.41 L800.53 1773.32 L800.64 1772.35 L800.75 1771.44 L800.85 1770.5 L800.95 1769.46 L801.05 1768.24 L801.16 1766.76 L801.27 1764.94 L801.38 1762.72 L801.5 1760 L801.54 1759.01 L801.58 1757.99 L801.62 1756.92 L801.66 1755.81 L801.7 1754.67 L801.74 1753.49 L801.78 1752.27 L801.82 1751.02 L801.86 1749.73 L801.9 1748.42 L801.95 1747.07 L801.99 1745.69 L802.03 1744.29 L802.07 1742.85 L802.11 1741.39 L802.16 1739.9 L802.2 1738.39 L802.24 1736.86 L802.29 1735.3 L802.33 1733.72 L802.38 1732.12 L802.42 1730.51 L802.47 1728.87 L802.51 1727.22 L802.56 1725.55 L802.61 1723.87 L802.65 1722.17 L802.7 1720.46 L802.75 1718.74 L802.8 1717.01 L802.85 1715.27 L802.9 1713.52 L802.95 1711.76 L803 1710 L803.04 1708.74 L803.07 1707.47 L803.11 1706.17 L803.15 1704.87 L803.19 1703.54 L803.23 1702.21 L803.27 1700.86 L803.3 1699.49 L803.34 1698.11 L803.38 1696.72 L803.42 1695.32 L803.46 1693.91 L803.51 1692.48 L803.55 1691.05 L803.59 1689.6 L803.63 1688.15 L803.67 1686.69 L803.71 1685.21 L803.76 1683.74 L803.8 1682.25 L803.84 1680.76 L803.88 1679.26 L803.93 1677.76 L803.97 1676.25 L804.01 1674.74 L804.05 1673.22 L804.1 1671.7 L804.14 1670.18 L804.18 1668.65 L804.23 1667.13 L804.27 1665.6 L804.31 1664.07 L804.36 1662.55 L804.4 1661.02 L804.44 1659.49 L804.49 1657.97 L804.53 1656.45 L804.57 1654.93 L804.62 1653.41 L804.66 1651.9 L804.7 1650.39 L804.75 1648.89 L804.79 1647.39 L804.83 1645.9 L804.87 1644.41 L804.92 1642.93 L804.96 1641.46 L805 1640 L805.9 1584.6 L807.6 1555.3 L810.8 1534.4 L812.9 1555.3 L813.8 1584.6 L814.7 1640 L814.74 1641.49 L814.77 1642.99 L814.81 1644.5 L814.84 1646.03 L814.88 1647.56 L814.91 1649.11 L814.95 1650.66 L814.99 1652.23 L815.02 1653.8 L815.06 1655.37 L815.1 1656.96 L815.13 1658.55 L815.17 1660.14 L815.21 1661.74 L815.24 1663.34 L815.28 1664.94 L815.32 1666.54 L815.36 1668.15 L815.39 1669.75 L815.43 1671.36 L815.47 1672.96 L815.5 1674.56 L815.54 1676.16 L815.58 1677.75 L815.61 1679.34 L815.65 1680.92 L815.69 1682.5 L815.72 1684.07 L815.76 1685.63 L815.8 1687.19 L815.83 1688.73 L815.87 1690.27 L815.9 1691.79 L815.94 1693.31 L815.98 1694.81 L816.01 1696.3 L816.05 1697.77 L816.08 1699.23 L816.12 1700.68 L816.15 1702.1 L816.18 1703.52 L816.22 1704.91 L816.25 1706.29 L816.29 1707.64 L816.32 1708.98 L816.35 1710.3 L816.38 1711.59 L816.42 1712.87 L816.45 1714.12 L816.48 1715.34 L816.51 1716.55 L816.54 1717.72 L816.57 1718.88 L816.6 1720 L816.66 1722.18 L816.71 1724.28 L816.77 1726.29 L816.82 1728.23 L816.87 1730.1 L816.92 1731.89 L816.96 1733.63 L817.01 1735.3 L817.06 1736.91 L817.1 1738.46 L817.14 1739.97 L817.19 1741.43 L817.23 1742.84 L817.27 1744.21 L817.31 1745.55 L817.36 1746.85 L817.4 1748.12 L817.44 1749.37 L817.49 1750.59 L817.54 1751.8 L817.58 1752.99 L817.63 1754.17 L817.68 1755.33 L817.73 1756.5 L817.79 1757.66 L817.84 1758.83 L817.9 1760 L818 1761.92 L818.11 1763.73 L818.21 1765.43 L818.32 1767.04 L818.43 1768.56 L818.55 1770.02 L818.66 1771.42 L818.78 1772.78 L818.9 1774.11 L819.02 1775.41 L819.15 1776.71 L819.28 1778.01 L819.4 1779.33 L819.53 1780.68 L819.67 1782.06 L819.8 1783.5 L819.93 1784.89 L820.05 1786.29 L820.17 1787.7 L820.3 1789.11 L820.42 1790.53 L820.55 1791.95 L820.68 1793.37 L820.81 1794.79 L820.94 1796.2 L821.08 1797.6 L821.22 1798.99 L821.37 1800.37 L821.52 1801.74 L821.68 1803.09 L821.85 1804.41 L822.02 1805.72 L822.2 1807 L822.41 1808.44 L822.63 1809.87 L822.86 1811.29 L823.09 1812.71 L823.33 1814.11 L823.58 1815.5 L823.83 1816.86 L824.09 1818.2 L824.35 1819.51 L824.63 1820.79 L824.91 1822.03 L825.19 1823.24 L825.49 1824.41 L825.79 1825.53 L826.1 1826.6 L826.53 1827.97 L826.97 1829.24 L827.42 1830.42 L827.89 1831.53 L828.36 1832.58 L828.85 1833.58 L829.36 1834.56 L829.89 1835.51 L830.44 1836.46 L831.01 1837.42 L831.6 1838.4 L832.21 1839.39 L832.82 1840.37 L833.45 1841.34 L834.1 1842.29 L834.76 1843.23 L835.45 1844.16 L836.17 1845.08 L836.92 1845.98 L837.71 1846.86 L838.53 1847.74 L839.4 1848.6 L840.17 1849.32 L840.96 1850.04 L841.77 1850.74 L842.61 1851.44 L843.47 1852.13 L844.35 1852.81 L845.26 1853.48 L846.2 1854.14 L847.15 1854.78 L848.13 1855.41 L849.13 1856.03 L850.15 1856.62 L851.2 1857.2 L852.2 1857.72 L853.24 1858.23 L854.31 1858.73 L855.4 1859.21 L856.52 1859.68 L857.66 1860.14 L858.81 1860.59 L859.97 1861.02 L861.14 1861.45 L862.31 1861.86 L863.47 1862.26 L864.63 1862.65 L865.77 1863.03 L866.9 1863.4 L868.1 1863.78 L869.3 1864.15 L870.5 1864.49 L871.69 1864.82 L872.88 1865.14 L874.08 1865.44 L875.27 1865.74 L876.47 1866.03 L877.67 1866.31 L878.87 1866.58 L880.07 1866.86 L881.28 1867.13 L882.5 1867.4 L883.8 1867.69 L885.08 1867.97 L886.34 1868.23 L887.59 1868.49 L888.84 1868.74 L890.11 1868.99 L891.4 1869.23 L892.73 1869.48 L894.1 1869.73 L895.53 1869.98 L897.03 1870.23 L898.6 1870.5 L899.76 1870.69 L900.97 1870.89 L902.21 1871.09 L903.49 1871.29 L904.79 1871.5 L906.12 1871.7 L907.48 1871.91 L908.85 1872.12 L910.23 1872.32 L911.62 1872.53 L913.02 1872.73 L914.42 1872.93 L915.82 1873.13 L917.21 1873.33 L918.59 1873.53 L919.95 1873.72 L921.3 1873.9 L922.64 1874.08 L924.01 1874.26 L925.38 1874.44 L926.76 1874.62 L928.15 1874.8 L929.54 1874.97 L930.93 1875.15 L932.32 1875.32 L933.69 1875.48 L935.06 1875.65 L936.41 1875.81 L937.74 1875.97 L939.05 1876.12 L940.34 1876.27 L941.59 1876.42 L942.81 1876.56 L944 1876.7 L945.6 1876.89 L947.1 1877.06 L948.51 1877.22 L949.87 1877.37 L951.19 1877.52 L952.49 1877.66 L953.79 1877.8 L955.11 1877.94 L956.48 1878.07 L957.9 1878.21 L959.4 1878.35 L961 1878.5 L962.3 1878.61 L963.69 1878.73 L965.15 1878.85 L966.68 1878.97 L968.25 1879.09 L969.85 1879.21 L971.46 1879.33 L973.07 1879.44 L974.65 1879.56 L976.2 1879.68 L977.7 1879.79 L979.12 1879.9 L980.46 1880.01 L981.7 1880.11 L982.82 1880.21 L983.8 1880.3 L985.98 1880.59 L986.49 1880.8 L987.24 1881.04 L990.1 1881.4 L991.02 1881.49 L992.04 1881.59 L993.15 1881.69 L994.35 1881.8 L995.62 1881.92 L996.97 1882.03 L998.37 1882.16 L999.83 1882.28 L1001.33 1882.41 L1002.88 1882.54 L1004.45 1882.67 L1006.05 1882.81 L1007.66 1882.94 L1009.29 1883.08 L1010.91 1883.21 L1012.52 1883.35 L1014.12 1883.48 L1015.69 1883.62 L1017.24 1883.75 L1018.74 1883.87 L1020.2 1884" stroke="#008000" stroke-width="2.1"/>
<path d="M77.6 1850.6 L79.04 1850.68 L80.47 1850.75 L81.91 1850.83 L83.35 1850.91 L84.79 1850.98 L86.23 1851.06 L87.67 1851.14 L89.11 1851.22 L90.55 1851.29 L91.99 1851.37 L93.43 1851.45 L94.87 1851.53 L96.31 1851.61 L97.76 1851.68 L99.2 1851.76 L100.64 1851.84 L102.09 1851.92 L103.53 1852 L104.97 1852.08 L106.42 1852.16 L107.86 1852.23 L109.3 1852.31 L110.75 1852.39 L112.19 1852.47 L113.64 1852.55 L115.08 1852.63 L116.52 1852.71 L117.97 1852.79 L119.41 1852.86 L120.86 1852.94 L122.3 1853.02 L123.74 1853.1 L125.19 1853.18 L126.63 1853.26 L128.07 1853.33 L129.51 1853.41 L130.95 1853.49 L132.4 1853.57 L133.84 1853.65 L135.28 1853.72 L136.72 1853.8 L138.16 1853.88 L139.6 1853.96 L141.04 1854.03 L142.47 1854.11 L143.91 1854.19 L145.35 1854.26 L146.79 1854.34 L148.22 1854.42 L149.66 1854.49 L151.09 1854.57 L152.52 1854.64 L153.96 1854.72 L155.39 1854.8 L156.82 1854.87 L158.25 1854.94 L159.68 1855.02 L161.11 1855.09 L162.54 1855.17 L163.96 1855.24 L165.39 1855.31 L166.81 1855.39 L168.24 1855.46 L169.66 1855.53 L171.08 1855.6 L172.5 1855.68 L173.92 1855.75 L175.34 1855.82 L176.76 1855.89 L178.17 1855.96 L179.59 1856.03 L181 1856.1 L182.47 1856.17 L183.95 1856.24 L185.42 1856.31 L186.88 1856.39 L188.35 1856.46 L189.82 1856.52 L191.28 1856.59 L192.75 1856.66 L194.21 1856.73 L195.67 1856.8 L197.13 1856.87 L198.59 1856.93 L200.05 1857 L201.51 1857.06 L202.97 1857.13 L204.42 1857.2 L205.88 1857.26 L207.33 1857.33 L208.78 1857.39 L210.23 1857.45 L211.69 1857.52 L213.14 1857.58 L214.59 1857.64 L216.03 1857.71 L217.48 1857.77 L218.93 1857.83 L220.38 1857.9 L221.82 1857.96 L223.27 1858.02 L224.71 1858.08 L226.16 1858.15 L227.6 1858.21 L229.05 1858.27 L230.49 1858.33 L231.93 1858.39 L233.38 1858.46 L234.82 1858.52 L236.26 1858.58 L237.7 1858.64 L239.15 1858.7 L240.59 1858.77 L242.03 1858.83 L243.47 1858.89 L244.91 1858.95 L246.35 1859.02 L247.79 1859.08 L249.23 1859.14 L250.67 1859.2 L252.12 1859.27 L253.56 1859.33 L255 1859.39 L256.44 1859.46 L257.88 1859.52 L259.32 1859.59 L260.77 1859.65 L262.21 1859.72 L263.65 1859.78 L265.09 1859.85 L266.54 1859.91 L267.98 1859.98 L269.43 1860.05 L270.87 1860.12 L272.32 1860.18 L273.76 1860.25 L275.21 1860.32 L276.66 1860.39 L278.1 1860.46 L279.55 1860.53 L281 1860.6 L282.43 1860.67 L283.86 1860.74 L285.29 1860.81 L286.71 1860.89 L288.14 1860.96 L289.57 1861.03 L291 1861.11 L292.43 1861.18 L293.86 1861.25 L295.29 1861.33 L296.71 1861.41 L298.14 1861.48 L299.57 1861.56 L301 1861.64 L302.43 1861.71 L303.86 1861.79 L305.29 1861.87 L306.71 1861.95 L308.14 1862.03 L309.57 1862.11 L311 1862.18 L312.43 1862.26 L313.86 1862.34 L315.29 1862.42 L316.71 1862.5 L318.14 1862.58 L319.57 1862.66 L321 1862.74 L322.43 1862.82 L323.86 1862.9 L325.29 1862.99 L326.71 1863.07 L328.14 1863.15 L329.57 1863.23 L331 1863.31 L332.43 1863.39 L333.86 1863.47 L335.29 1863.55 L336.71 1863.63 L338.14 1863.71 L339.57 1863.78 L341 1863.86 L342.43 1863.94 L343.86 1864.02 L345.29 1864.1 L346.71 1864.18 L348.14 1864.26 L349.57 1864.33 L351 1864.41 L352.43 1864.49 L353.86 1864.56 L355.29 1864.64 L356.71 1864.71 L358.14 1864.79 L359.57 1864.86 L361 1864.94 L362.43 1865.01 L363.86 1865.08 L365.29 1865.15 L366.71 1865.23 L368.14 1865.3 L369.57 1865.37 L371 1865.44 L372.43 1865.5 L373.86 1865.57 L375.29 1865.64 L376.71 1865.71 L378.14 1865.77 L379.57 1865.84 L381 1865.9 L382.45 1865.96 L383.9 1866.03 L385.35 1866.09 L386.8 1866.15 L388.25 1866.21 L389.7 1866.27 L391.14 1866.33 L392.59 1866.39 L394.04 1866.45 L395.49 1866.5 L396.94 1866.56 L398.39 1866.61 L399.84 1866.67 L401.29 1866.72 L402.74 1866.78 L404.19 1866.83 L405.64 1866.88 L407.09 1866.93 L408.54 1866.98 L409.99 1867.03 L411.43 1867.09 L412.88 1867.14 L414.33 1867.19 L415.78 1867.23 L417.23 1867.28 L418.68 1867.33 L420.13 1867.38 L421.58 1867.43 L423.03 1867.48 L424.48 1867.52 L425.93 1867.57 L427.38 1867.62 L428.83 1867.67 L430.28 1867.71 L431.72 1867.76 L433.17 1867.81 L434.62 1867.86 L436.07 1867.9 L437.52 1867.95 L438.97 1868 L440.42 1868.04 L441.87 1868.09 L443.32 1868.14 L444.77 1868.19 L446.22 1868.23 L447.67 1868.28 L449.12 1868.33 L450.57 1868.38 L452.01 1868.43 L453.46 1868.48 L454.91 1868.53 L456.36 1868.57 L457.81 1868.63 L459.26 1868.68 L460.71 1868.73 L462.16 1868.78 L463.61 1868.83 L465.06 1868.88 L466.51 1868.94 L467.96 1868.99 L469.41 1869.04 L470.86 1869.1 L472.3 1869.15 L473.75 1869.21 L475.2 1869.27 L476.65 1869.32 L478.1 1869.38 L479.55 1869.44 L481 1869.5 L482.45 1869.56 L483.9 1869.62 L485.35 1869.68 L486.8 1869.75 L488.25 1869.81 L489.7 1869.88 L491.14 1869.94 L492.59 1870.01 L494.04 1870.08 L495.49 1870.15 L496.94 1870.22 L498.39 1870.29 L499.84 1870.36 L501.29 1870.43 L502.74 1870.5 L504.19 1870.57 L505.64 1870.64 L507.09 1870.72 L508.54 1870.79 L509.99 1870.86 L511.43 1870.94 L512.88 1871.01 L514.33 1871.09 L515.78 1871.16 L517.23 1871.23 L518.68 1871.31 L520.13 1871.39 L521.58 1871.46 L523.03 1871.54 L524.48 1871.61 L525.93 1871.69 L527.38 1871.76 L528.83 1871.84 L530.28 1871.91 L531.72 1871.99 L533.17 1872.06 L534.62 1872.14 L536.07 1872.21 L537.52 1872.29 L538.97 1872.36 L540.42 1872.43 L541.87 1872.51 L543.32 1872.58 L544.77 1872.65 L546.22 1872.72 L547.67 1872.79 L549.12 1872.86 L550.57 1872.93 L552.01 1873 L553.46 1873.07 L554.91 1873.14 L556.36 1873.21 L557.81 1873.27 L559.26 1873.34 L560.71 1873.4 L562.16 1873.47 L563.61 1873.53 L565.06 1873.59 L566.51 1873.65 L567.96 1873.71 L569.41 1873.77 L570.86 1873.83 L572.3 1873.89 L573.75 1873.94 L575.2 1874 L576.65 1874.05 L578.1 1874.1 L579.55 1874.15 L581 1874.2 L582.48 1874.25 L583.97 1874.3 L585.48 1874.35 L587 1874.39 L588.53 1874.44 L590.08 1874.48 L591.63 1874.53 L593.2 1874.57 L594.77 1874.62 L596.36 1874.66 L597.96 1874.71 L599.56 1874.75 L601.17 1874.79 L602.78 1874.83 L604.41 1874.87 L606.03 1874.91 L607.66 1874.95 L609.3 1874.99 L610.94 1875.03 L612.58 1875.07 L614.22 1875.1 L615.87 1875.14 L617.51 1875.17 L619.16 1875.21 L620.8 1875.24 L622.44 1875.28 L624.08 1875.31 L625.72 1875.35 L627.35 1875.38 L628.98 1875.41 L630.6 1875.44 L632.22 1875.47 L633.83 1875.5 L635.44 1875.53 L637.03 1875.56 L638.62 1875.59 L640.2 1875.62 L641.77 1875.64 L643.33 1875.67 L644.88 1875.7 L646.42 1875.72 L647.94 1875.75 L649.45 1875.77 L650.95 1875.8 L652.43 1875.82 L653.9 1875.84 L655.36 1875.86 L656.79 1875.88 L658.21 1875.91 L659.61 1875.93 L660.99 1875.95 L662.36 1875.97 L663.7 1875.98 L665.02 1876 L666.32 1876.02 L667.6 1876.04 L668.86 1876.05 L670.09 1876.07 L671.3 1876.09 L672.49 1876.1 L673.65 1876.11 L674.78 1876.13 L675.89 1876.14 L676.97 1876.15 L678.02 1876.17 L679.04 1876.18 L680.04 1876.19 L681 1876.2 L684.2 1876.23 L687.04 1876.25 L689.54 1876.27 L691.75 1876.27 L693.68 1876.26 L695.37 1876.25 L696.86 1876.23 L698.17 1876.2 L699.34 1876.17 L700.39 1876.13 L701.36 1876.08 L702.29 1876.04 L703.19 1875.98 L704.11 1875.92 L705.07 1875.86 L706.11 1875.8 L707.26 1875.74 L708.54 1875.67 L710 1875.6 L711.42 1875.54 L712.88 1875.47 L714.36 1875.4 L715.86 1875.32 L717.38 1875.24 L718.92 1875.16 L720.46 1875.08 L722 1874.99 L723.54 1874.9 L725.07 1874.8 L726.59 1874.71 L728.09 1874.61 L729.57 1874.51 L731.02 1874.4 L732.44 1874.29 L733.82 1874.18 L735.16 1874.07 L736.46 1873.96 L737.7 1873.84 L738.88 1873.72 L740 1873.6 L741.82 1873.38 L743.49 1873.15 L745.02 1872.9 L746.44 1872.65 L747.76 1872.39 L748.99 1872.12 L750.17 1871.85 L751.29 1871.57 L752.39 1871.3 L753.48 1871.03 L754.58 1870.76 L755.7 1870.5 L757.18 1870.18 L758.57 1869.9 L759.89 1869.64 L761.17 1869.39 L762.41 1869.11 L763.64 1868.79 L764.87 1868.41 L766.12 1867.96 L767.4 1867.4 L768.32 1866.95 L769.25 1866.46 L770.2 1865.94 L771.15 1865.37 L772.11 1864.78 L773.07 1864.16 L774.02 1863.52 L774.95 1862.87 L775.86 1862.2 L776.75 1861.52 L777.6 1860.85 L778.42 1860.17 L779.2 1859.5 L780.06 1858.72 L780.88 1857.93 L781.66 1857.15 L782.39 1856.36 L783.1 1855.55 L783.78 1854.72 L784.44 1853.87 L785.09 1852.99 L785.73 1852.07 L786.36 1851.11 L787 1850.1 L787.54 1849.21 L788.08 1848.28 L788.61 1847.31 L789.13 1846.32 L789.64 1845.31 L790.15 1844.27 L790.64 1843.22 L791.12 1842.15 L791.59 1841.08 L792.04 1840 L792.48 1838.93 L792.9 1837.86 L793.3 1836.8 L793.71 1835.67 L794.11 1834.56 L794.48 1833.46 L794.83 1832.36 L795.17 1831.26 L795.49 1830.14 L795.8 1829.01 L796.1 1827.84 L796.39 1826.63 L796.66 1825.38 L796.94 1824.07 L797.2 1822.7 L797.42 1821.47 L797.63 1820.19 L797.84 1818.86 L798.03 1817.5 L798.22 1816.11 L798.4 1814.68 L798.58 1813.24 L798.74 1811.79 L798.9 1810.33 L799.05 1808.86 L799.2 1807.4 L799.34 1805.95 L799.47 1804.51 L799.6 1803.1 L799.73 1801.6 L799.84 1800.12 L799.94 1798.66 L800.03 1797.2 L800.11 1795.74 L800.19 1794.28 L800.26 1792.81 L800.33 1791.32 L800.4 1789.82 L800.47 1788.29 L800.54 1786.73 L800.62 1785.14 L800.7 1783.5 L800.77 1782.17 L800.84 1780.86 L800.92 1779.57 L800.99 1778.29 L801.06 1777 L801.14 1775.7 L801.21 1774.38 L801.29 1773.03 L801.36 1771.63 L801.44 1770.19 L801.51 1768.69 L801.59 1767.13 L801.67 1765.48 L801.74 1763.75 L801.82 1761.93 L801.9 1760 L801.95 1758.83 L801.99 1757.66 L802.04 1756.5 L802.08 1755.33 L802.13 1754.17 L802.17 1752.99 L802.22 1751.8 L802.26 1750.59 L802.31 1749.37 L802.35 1748.12 L802.4 1746.85 L802.44 1745.55 L802.49 1744.21 L802.54 1742.84 L802.58 1741.43 L802.63 1739.97 L802.68 1738.46 L802.73 1736.91 L802.78 1735.3 L802.82 1733.63 L802.88 1731.89 L802.93 1730.1 L802.98 1728.23 L803.03 1726.29 L803.09 1724.28 L803.14 1722.18 L803.2 1720 L803.23 1718.88 L803.26 1717.72 L803.29 1716.55 L803.32 1715.34 L803.35 1714.12 L803.38 1712.87 L803.41 1711.59 L803.44 1710.3 L803.47 1708.98 L803.5 1707.64 L803.53 1706.29 L803.57 1704.91 L803.6 1703.52 L803.63 1702.1 L803.66 1700.68 L803.7 1699.23 L803.73 1697.77 L803.76 1696.3 L803.8 1694.81 L803.83 1693.31 L803.86 1691.79 L803.9 1690.27 L803.93 1688.73 L803.97 1687.19 L804 1685.63 L804.03 1684.07 L804.07 1682.5 L804.1 1680.92 L804.14 1679.34 L804.17 1677.75 L804.21 1676.16 L804.24 1674.56 L804.28 1672.96 L804.31 1671.36 L804.35 1669.75 L804.38 1668.15 L804.42 1666.54 L804.45 1664.94 L804.49 1663.34 L804.52 1661.74 L804.56 1660.14 L804.59 1658.55 L804.63 1656.96 L804.66 1655.37 L804.69 1653.8 L804.73 1652.23 L804.76 1650.66 L804.8 1649.11 L804.83 1647.56 L804.87 1646.03 L804.9 1644.5 L804.93 1642.99 L804.97 1641.49 L805 1640 L806.4 1596.4 L808.8 1567 L810.8 1549.7 L812 1567 L813.5 1602.3 L814.4 1640 L814.44 1641.49 L814.47 1642.99 L814.51 1644.5 L814.54 1646.03 L814.58 1647.56 L814.61 1649.11 L814.65 1650.66 L814.69 1652.23 L814.72 1653.8 L814.76 1655.37 L814.8 1656.96 L814.84 1658.55 L814.87 1660.14 L814.91 1661.74 L814.95 1663.34 L814.98 1664.94 L815.02 1666.54 L815.06 1668.15 L815.1 1669.75 L815.13 1671.36 L815.17 1672.96 L815.21 1674.56 L815.25 1676.16 L815.28 1677.75 L815.32 1679.34 L815.36 1680.92 L815.39 1682.5 L815.43 1684.07 L815.47 1685.63 L815.5 1687.19 L815.54 1688.73 L815.58 1690.27 L815.61 1691.79 L815.65 1693.31 L815.68 1694.81 L815.72 1696.3 L815.75 1697.77 L815.79 1699.23 L815.82 1700.68 L815.86 1702.1 L815.89 1703.52 L815.92 1704.91 L815.96 1706.29 L815.99 1707.64 L816.02 1708.98 L816.06 1710.3 L816.09 1711.59 L816.12 1712.87 L816.15 1714.12 L816.18 1715.34 L816.21 1716.55 L816.24 1717.72 L816.27 1718.88 L816.3 1720 L816.36 1722.17 L816.41 1724.26 L816.46 1726.25 L816.51 1728.16 L816.56 1729.99 L816.61 1731.74 L816.65 1733.43 L816.69 1735.06 L816.74 1736.62 L816.78 1738.13 L816.82 1739.59 L816.86 1741 L816.9 1742.37 L816.94 1743.71 L816.98 1745.01 L817.02 1746.29 L817.06 1747.55 L817.1 1748.79 L817.14 1750.02 L817.18 1751.24 L817.22 1752.46 L817.26 1753.69 L817.31 1754.92 L817.35 1756.16 L817.4 1757.41 L817.45 1758.69 L817.5 1760 L817.57 1761.68 L817.63 1763.32 L817.7 1764.93 L817.77 1766.5 L817.84 1768.05 L817.91 1769.57 L817.98 1771.07 L818.05 1772.55 L818.12 1774.02 L818.19 1775.47 L818.27 1776.91 L818.34 1778.34 L818.42 1779.76 L818.5 1781.18 L818.58 1782.6 L818.66 1784.03 L818.75 1785.46 L818.83 1786.9 L818.92 1788.35 L819.01 1789.82 L819.1 1791.3 L819.19 1792.74 L819.27 1794.2 L819.36 1795.67 L819.44 1797.16 L819.53 1798.67 L819.61 1800.18 L819.7 1801.69 L819.78 1803.21 L819.87 1804.72 L819.96 1806.23 L820.06 1807.73 L820.15 1809.22 L820.25 1810.69 L820.36 1812.15 L820.47 1813.58 L820.58 1814.98 L820.7 1816.36 L820.83 1817.71 L820.96 1819.02 L821.1 1820.29 L821.25 1821.52 L821.4 1822.7 L821.62 1824.26 L821.86 1825.76 L822.11 1827.2 L822.37 1828.58 L822.64 1829.91 L822.92 1831.19 L823.2 1832.43 L823.5 1833.63 L823.8 1834.8 L824.11 1835.93 L824.43 1837.04 L824.76 1838.12 L825.09 1839.18 L825.42 1840.23 L825.76 1841.27 L826.1 1842.3 L826.52 1843.54 L826.95 1844.73 L827.38 1845.88 L827.82 1846.98 L828.27 1848.05 L828.72 1849.08 L829.19 1850.08 L829.68 1851.06 L830.18 1852 L830.7 1852.93 L831.24 1853.83 L831.81 1854.72 L832.4 1855.6 L833.06 1856.52 L833.74 1857.41 L834.44 1858.26 L835.16 1859.08 L835.9 1859.87 L836.66 1860.64 L837.45 1861.39 L838.26 1862.12 L839.1 1862.85 L839.97 1863.57 L840.87 1864.28 L841.8 1865 L842.62 1865.62 L843.47 1866.24 L844.35 1866.85 L845.25 1867.46 L846.16 1868.06 L847.1 1868.66 L848.06 1869.24 L849.03 1869.82 L850.01 1870.38 L851.01 1870.92 L852.02 1871.45 L853.04 1871.95 L854.07 1872.44 L855.1 1872.9 L856.24 1873.37 L857.42 1873.82 L858.64 1874.24 L859.88 1874.64 L861.15 1875.03 L862.41 1875.39 L863.68 1875.74 L864.94 1876.08 L866.19 1876.4 L867.4 1876.71 L868.58 1877.01 L869.72 1877.31 L870.8 1877.6 L872.25 1877.99 L873.58 1878.34 L874.83 1878.66 L876.03 1878.96 L877.22 1879.24 L878.42 1879.51 L879.68 1879.79 L881.03 1880.09 L882.5 1880.4 L883.67 1880.65 L884.85 1880.9 L886.06 1881.15 L887.3 1881.4 L888.56 1881.66 L889.86 1881.91 L891.2 1882.17 L892.58 1882.43 L894.01 1882.7 L895.48 1882.96 L897.01 1883.23 L898.6 1883.5 L899.76 1883.69 L900.97 1883.89 L902.21 1884.09 L903.49 1884.29 L904.79 1884.5 L906.12 1884.7 L907.48 1884.91 L908.85 1885.12 L910.23 1885.32 L911.62 1885.53 L913.02 1885.73 L914.42 1885.93 L915.82 1886.13 L917.21 1886.33 L918.59 1886.53 L919.95 1886.72 L921.3 1886.9 L922.64 1887.08 L924.01 1887.27 L925.38 1887.45 L926.76 1887.64 L928.15 1887.83 L929.54 1888.01 L930.93 1888.19 L932.32 1888.37 L933.69 1888.54 L935.06 1888.71 L936.41 1888.88 L937.74 1889.03 L939.05 1889.18 L940.34 1889.33 L941.59 1889.46 L942.81 1889.59 L944 1889.7 L945.75 1889.86 L947.39 1889.99 L948.94 1890.11 L950.44 1890.21 L951.9 1890.29 L953.34 1890.37 L954.78 1890.43 L956.24 1890.48 L957.75 1890.52 L959.33 1890.56 L961 1890.6 L962.51 1890.62 L964.12 1890.62 L965.8 1890.61 L967.53 1890.58 L969.29 1890.55 L971.06 1890.51 L972.82 1890.48 L974.54 1890.45 L976.2 1890.42 L977.78 1890.41 L979.25 1890.42 L980.6 1890.45 L981.8 1890.5 L983.65 1890.69 L984.69 1890.97 L985.37 1891.29 L986.18 1891.64 L987.6 1891.99 L990.1 1892.3 L991.06 1892.38 L992.12 1892.46 L993.26 1892.54 L994.47 1892.62 L995.76 1892.69 L997.11 1892.77 L998.52 1892.85 L999.98 1892.92 L1001.47 1893 L1003.01 1893.07 L1004.57 1893.15 L1006.16 1893.22 L1007.75 1893.3 L1009.36 1893.37 L1010.96 1893.45 L1012.56 1893.52 L1014.15 1893.6 L1015.71 1893.67 L1017.24 1893.75 L1018.74 1893.82 L1020.2 1893.9" stroke="#ff0000" stroke-width="2.1"/>
</g>
<g fill="none">
<line x1="540.1" y1="148.5" x2="540.1" y2="228.6" stroke="#000" stroke-width="1.4"/>
<line x1="540.1" y1="228.6" x2="540.1" y2="255" stroke="#000" stroke-width="1.45" stroke-dasharray="8.44 8.44" stroke-dashoffset="0"/>
<line x1="570.6" y1="131.9" x2="561.8" y2="228.6" stroke="#000" stroke-width="1.4"/>
<line x1="561.8" y1="228.6" x2="561.8" y2="741.6" stroke="#000" stroke-width="1.45" stroke-dasharray="8.44 8.44" stroke-dashoffset="0"/>
<line x1="561.8" y1="741.6" x2="561.8" y2="985.3" stroke="#000" stroke-width="1.45" stroke-dasharray="8.44 8.44" stroke-dashoffset="7.78"/>
<line x1="561.8" y1="985.3" x2="561.8" y2="1228.4" stroke="#000" stroke-width="1.45" stroke-dasharray="8.44 8.44" stroke-dashoffset="13.38"/>
<line x1="548.9" y1="1602" x2="548.9" y2="1640.4" stroke="#000" stroke-width="1.4"/>
<line x1="548.9" y1="1640.4" x2="548.9" y2="1804" stroke="#000" stroke-width="1.45" stroke-dasharray="8.44 8.44" stroke-dashoffset="14.88"/>
<line x1="588.1" y1="1584.3" x2="588.1" y2="1640.4" stroke="#000" stroke-width="1.4"/>
<line x1="588.1" y1="1640.4" x2="588.1" y2="1682.5" stroke="#000" stroke-width="1.45" stroke-dasharray="8.44 8.44" stroke-dashoffset="14.88"/>
<line x1="808.2" y1="1484.2" x2="808.2" y2="1494.6" stroke="#000" stroke-width="1.4"/>
<line x1="808.2" y1="1494.6" x2="808.2" y2="1530.3" stroke="#000" stroke-width="1.45" stroke-dasharray="8.44 8.44" stroke-dashoffset="14.4"/>
</g>
<rect x="77.6" y="11.8" width="942.6" height="729.8" fill="none" stroke="#000" stroke-width="1.4"/>
<path d="M77.6 595.64h5.6M1020.2 595.64h-5.6M77.6 303.72h5.6M1020.2 303.72h-5.6M77.6 11.8h5.6M1020.2 11.8h-5.6M248.7 741.6v-5.6M248.7 11.8v5.6M677.5 741.6v-5.6M677.5 11.8v5.6" stroke="#000" stroke-width="1" fill="none"/>
<rect x="77.6" y="741.6" width="942.6" height="243.7" fill="none" stroke="#000" stroke-width="1.4"/>
<path d="M77.6 910.32h5.6M1020.2 910.32h-5.6M77.6 816.58h5.6M1020.2 816.58h-5.6M248.7 985.3v-5.6M248.7 741.6v5.6M677.5 985.3v-5.6M677.5 741.6v5.6" stroke="#000" stroke-width="1" fill="none"/>
<rect x="77.6" y="985.3" width="942.6" height="243.1" fill="none" stroke="#000" stroke-width="1.4"/>
<path d="M77.6 1153.6h5.6M1020.2 1153.6h-5.6M77.6 1060.1h5.6M1020.2 1060.1h-5.6M248.7 1228.4v-5.6M248.7 985.3v5.6M677.5 1228.4v-5.6M677.5 985.3v5.6" stroke="#000" stroke-width="1" fill="none"/>
<rect x="77.6" y="1326.5" width="942.6" height="729.7" fill="none" stroke="#000" stroke-width="1.4"/>
<path d="M77.6 2056.2h5.6M1020.2 2056.2h-5.6M77.6 1812.97h5.6M1020.2 1812.97h-5.6M77.6 1569.73h5.6M1020.2 1569.73h-5.6M77.6 1326.5h5.6M1020.2 1326.5h-5.6M313.2 2056.2v-5.6M313.2 1326.5v5.6M706.3 2056.2v-5.6M706.3 1326.5v5.6" stroke="#000" stroke-width="1" fill="none"/>
<g style="font-size:25.5px">
<text x="72" y="603.14" text-anchor="end">3.2</text>
<text x="72" y="311.22" text-anchor="end">3.3</text>
<text x="72" y="19.3" text-anchor="end">3.4</text>
<text x="72" y="917.82" text-anchor="end">0</text>
<text x="72" y="824.08" text-anchor="end">50</text>
<text x="72" y="1161.1" text-anchor="end">0</text>
<text x="72" y="1067.6" text-anchor="end">50</text>
<text x="72" y="2063.7" text-anchor="end">3.1</text>
<text x="72" y="1820.47" text-anchor="end">3.2</text>
<text x="72" y="1577.23" text-anchor="end">3.3</text>
<text x="72" y="1334" text-anchor="end">3.4</text>
<text x="248.7" y="1253.4" text-anchor="middle">347.40</text>
<text x="677.5" y="1253.4" text-anchor="middle">347.45</text>
<text x="313.2" y="2081.2" text-anchor="middle">347.60</text>
<text x="706.3" y="2081.2" text-anchor="middle">347.65</text>
<text x="548.9" y="1284.9" text-anchor="middle">Frequency (GHz)</text>
<text x="548.9" y="2112.7" text-anchor="middle">Frequency (GHz)</text>
<text transform="translate(19.5 376.7) rotate(-90)" text-anchor="middle">Flux (Jy)</text>
<text transform="translate(26.8 863.45) rotate(-90)" text-anchor="middle">Residuals (mJy)</text>
<text transform="translate(26.8 1106.85) rotate(-90)" text-anchor="middle">Residuals (mJy)</text>
<text transform="translate(19.5 1691.35) rotate(-90)" text-anchor="middle">Flux (Jy)</text>
</g>
<line x1="107.2" y1="44.95" x2="144" y2="44.95" stroke="#000" stroke-width="1.1"/>
<text x="170.8" y="54.1" style="font-size:25.5px">Observation</text>
<line x1="107.2" y1="82.7" x2="144" y2="82.7" stroke="#0000ff" stroke-width="2.1"/>
<text transform="translate(170.8 90.9)"><tspan x="0" y="0" style="font-size:25.5px;font-family:'DejaVu Sans','Liberation Sans',sans-serif">N</tspan><tspan x="19.08" y="0" style="font-size:25.5px;font-family:'DejaVu Sans','Liberation Sans',sans-serif">i</tspan><tspan x="26.16" y="0" style="font-size:25.5px;font-family:'DejaVu Sans','Liberation Sans',sans-serif">x</tspan><tspan x="41.25" y="0" style="font-size:25.5px;font-family:'DejaVu Sans','Liberation Sans',sans-serif">o</tspan><tspan x="56.85" y="0" style="font-size:25.5px;font-family:'DejaVu Sans','Liberation Sans',sans-serif">n</tspan><tspan x="81.12" y="0" style="font-size:25.5px;font-family:'DejaVu Sans','Liberation Sans',sans-serif">2</tspan><tspan x="97.34" y="0" style="font-size:25.5px;font-family:'DejaVu Sans','Liberation Sans',sans-serif">0</tspan><tspan x="113.57" y="0" style="font-size:25.5px;font-family:'DejaVu Sans','Liberation Sans',sans-serif">0</tspan><tspan x="129.79" y="0" style="font-size:25.5px;font-family:'DejaVu Sans','Liberation Sans',sans-serif">9</tspan><tspan x="154.12" y="0" style="font-size:25.5px;font-family:'DejaVu Sans','Liberation Sans',sans-serif">C</tspan><tspan x="183.62" y="0" style="font-size:25.5px;font-family:'DejaVu Sans','Liberation Sans',sans-serif">H</tspan><tspan x="222.59" y="0" style="font-size:25.5px;font-family:'DejaVu Sans','Liberation Sans',sans-serif">M</tspan><tspan x="244.59" y="0" style="font-size:25.5px;font-family:'DejaVu Sans','Liberation Sans',sans-serif">o</tspan><tspan x="260.19" y="0" style="font-size:25.5px;font-family:'DejaVu Sans','Liberation Sans',sans-serif">d</tspan><tspan x="276.37" y="0" style="font-size:25.5px;font-family:'DejaVu Sans','Liberation Sans',sans-serif">e</tspan><tspan x="292.06" y="0" style="font-size:25.5px;font-family:'DejaVu Sans','Liberation Sans',sans-serif">l</tspan><tspan x="173.06" y="4.34" style="font-size:17.85px;font-family:'Latin Modern Roman','LM Roman 10','Liberation Serif','DejaVu Serif',serif;stroke:#000;stroke-width:0.45px">3</tspan><tspan x="203.93" y="4.34" style="font-size:17.85px;font-family:'Latin Modern Roman','LM Roman 10','Liberation Serif','DejaVu Serif',serif;stroke:#000;stroke-width:0.45px">8</tspan></text>
<line x1="107.2" y1="120.5" x2="144" y2="120.5" stroke="#008000" stroke-width="2.1"/>
<text transform="translate(170.8 128.7)"><tspan x="0" y="0" style="font-size:25.5px;font-family:'DejaVu Sans','Liberation Sans',sans-serif">B</tspan><tspan x="17.49" y="0" style="font-size:25.5px;font-family:'DejaVu Sans','Liberation Sans',sans-serif">e</tspan><tspan x="33.18" y="0" style="font-size:25.5px;font-family:'DejaVu Sans','Liberation Sans',sans-serif">s</tspan><tspan x="46.47" y="0" style="font-size:25.5px;font-family:'DejaVu Sans','Liberation Sans',sans-serif">t</tspan><tspan x="56.47" y="0" style="font-size:25.5px;font-family:'DejaVu Sans','Liberation Sans',sans-serif">-</tspan><tspan x="65.67" y="0" style="font-size:25.5px;font-family:'DejaVu Sans','Liberation Sans',sans-serif">f</tspan><tspan x="74.64" y="0" style="font-size:25.5px;font-family:'DejaVu Sans','Liberation Sans',sans-serif">i</tspan><tspan x="81.73" y="0" style="font-size:25.5px;font-family:'DejaVu Sans','Liberation Sans',sans-serif">t</tspan><tspan x="91.73" y="0" style="font-size:25.5px;font-family:'DejaVu Sans','Liberation Sans',sans-serif">t</tspan><tspan x="101.73" y="0" style="font-size:25.5px;font-family:'DejaVu Sans','Liberation Sans',sans-serif">i</tspan><tspan x="108.81" y="0" style="font-size:25.5px;font-family:'DejaVu Sans','Liberation Sans',sans-serif">n</tspan><tspan x="124.97" y="0" style="font-size:25.5px;font-family:'DejaVu Sans','Liberation Sans',sans-serif">g</tspan><tspan x="149.26" y="0" style="font-size:25.5px;font-family:'DejaVu Sans','Liberation Sans',sans-serif">C</tspan><tspan x="178.76" y="0" style="font-size:25.5px;font-family:'DejaVu Sans','Liberation Sans',sans-serif">H</tspan><tspan x="217.73" y="0" style="font-size:25.5px;font-family:'DejaVu Sans','Liberation Sans',sans-serif">M</tspan><tspan x="239.73" y="0" style="font-size:25.5px;font-family:'DejaVu Sans','Liberation Sans',sans-serif">o</tspan><tspan x="255.33" y="0" style="font-size:25.5px;font-family:'DejaVu Sans','Liberation Sans',sans-serif">d</tspan><tspan x="271.52" y="0" style="font-size:25.5px;font-family:'DejaVu Sans','Liberation Sans',sans-serif">e</tspan><tspan x="287.21" y="0" style="font-size:25.5px;font-family:'DejaVu Sans','Liberation Sans',sans-serif">l</tspan><tspan x="168.21" y="4.34" style="font-size:17.85px;font-family:'Latin Modern Roman','LM Roman 10','Liberation Serif','DejaVu Serif',serif;stroke:#000;stroke-width:0.45px">3</tspan><tspan x="199.07" y="4.34" style="font-size:17.85px;font-family:'Latin Modern Roman','LM Roman 10','Liberation Serif','DejaVu Serif',serif;stroke:#000;stroke-width:0.45px">8</tspan></text>
<line x1="107.2" y1="158.5" x2="144" y2="158.5" stroke="#ff0000" stroke-width="2.1"/>
<text transform="translate(170.8 166.3)"><tspan x="0" y="0" style="font-size:25.5px;font-family:'DejaVu Sans','Liberation Sans',sans-serif">N</tspan><tspan x="19.08" y="0" style="font-size:25.5px;font-family:'DejaVu Sans','Liberation Sans',sans-serif">o</tspan><tspan x="42.78" y="0" style="font-size:25.5px;font-family:'DejaVu Sans','Liberation Sans',sans-serif">C</tspan><tspan x="72.28" y="0" style="font-size:25.5px;font-family:'DejaVu Sans','Liberation Sans',sans-serif">H</tspan><tspan x="111.25" y="0" style="font-size:25.5px;font-family:'DejaVu Sans','Liberation Sans',sans-serif">M</tspan><tspan x="133.25" y="0" style="font-size:25.5px;font-family:'DejaVu Sans','Liberation Sans',sans-serif">o</tspan><tspan x="148.85" y="0" style="font-size:25.5px;font-family:'DejaVu Sans','Liberation Sans',sans-serif">d</tspan><tspan x="165.04" y="0" style="font-size:25.5px;font-family:'DejaVu Sans','Liberation Sans',sans-serif">e</tspan><tspan x="180.72" y="0" style="font-size:25.5px;font-family:'DejaVu Sans','Liberation Sans',sans-serif">l</tspan><tspan x="61.73" y="4.34" style="font-size:17.85px;font-family:'Latin Modern Roman','LM Roman 10','Liberation Serif','DejaVu Serif',serif;stroke:#000;stroke-width:0.45px">3</tspan><tspan x="92.59" y="4.34" style="font-size:17.85px;font-family:'Latin Modern Roman','LM Roman 10','Liberation Serif','DejaVu Serif',serif;stroke:#000;stroke-width:0.45px">8</tspan></text>
<line x1="107.2" y1="1359.65" x2="144" y2="1359.65" stroke="#000" stroke-width="1.1"/>
<text x="170.8" y="1368.8" style="font-size:25.5px">Observation</text>
<line x1="107.2" y1="1397.4" x2="144" y2="1397.4" stroke="#0000ff" stroke-width="2.1"/>
<text transform="translate(170.8 1405.6)"><tspan x="0" y="0" style="font-size:25.5px;font-family:'DejaVu Sans','Liberation Sans',sans-serif">N</tspan><tspan x="19.08" y="0" style="font-size:25.5px;font-family:'DejaVu Sans','Liberation Sans',sans-serif">i</tspan><tspan x="26.16" y="0" style="font-size:25.5px;font-family:'DejaVu Sans','Liberation Sans',sans-serif">x</tspan><tspan x="41.25" y="0" style="font-size:25.5px;font-family:'DejaVu Sans','Liberation Sans',sans-serif">o</tspan><tspan x="56.85" y="0" style="font-size:25.5px;font-family:'DejaVu Sans','Liberation Sans',sans-serif">n</tspan><tspan x="81.12" y="0" style="font-size:25.5px;font-family:'DejaVu Sans','Liberation Sans',sans-serif">2</tspan><tspan x="97.34" y="0" style="font-size:25.5px;font-family:'DejaVu Sans','Liberation Sans',sans-serif">0</tspan><tspan x="113.57" y="0" style="font-size:25.5px;font-family:'DejaVu Sans','Liberation Sans',sans-serif">0</tspan><tspan x="129.79" y="0" style="font-size:25.5px;font-family:'DejaVu Sans','Liberation Sans',sans-serif">9</tspan><tspan x="154.12" y="0" style="font-size:25.5px;font-family:'DejaVu Sans','Liberation Sans',sans-serif">C</tspan><tspan x="183.62" y="0" style="font-size:25.5px;font-family:'DejaVu Sans','Liberation Sans',sans-serif">H</tspan><tspan x="222.59" y="0" style="font-size:25.5px;font-family:'DejaVu Sans','Liberation Sans',sans-serif">M</tspan><tspan x="244.59" y="0" style="font-size:25.5px;font-family:'DejaVu Sans','Liberation Sans',sans-serif">o</tspan><tspan x="260.19" y="0" style="font-size:25.5px;font-family:'DejaVu Sans','Liberation Sans',sans-serif">d</tspan><tspan x="276.37" y="0" style="font-size:25.5px;font-family:'DejaVu Sans','Liberation Sans',sans-serif">e</tspan><tspan x="292.06" y="0" style="font-size:25.5px;font-family:'DejaVu Sans','Liberation Sans',sans-serif">l</tspan><tspan x="173.06" y="4.34" style="font-size:17.85px;font-family:'Latin Modern Roman','LM Roman 10','Liberation Serif','DejaVu Serif',serif;stroke:#000;stroke-width:0.45px">3</tspan><tspan x="203.93" y="4.34" style="font-size:17.85px;font-family:'Latin Modern Roman','LM Roman 10','Liberation Serif','DejaVu Serif',serif;stroke:#000;stroke-width:0.45px">8</tspan></text>
<line x1="107.2" y1="1435.2" x2="144" y2="1435.2" stroke="#008000" stroke-width="2.1"/>
<text transform="translate(170.8 1443.4)"><tspan x="0" y="0" style="font-size:25.5px;font-family:'DejaVu Sans','Liberation Sans',sans-serif">B</tspan><tspan x="17.49" y="0" style="font-size:25.5px;font-family:'DejaVu Sans','Liberation Sans',sans-serif">e</tspan><tspan x="33.18" y="0" style="font-size:25.5px;font-family:'DejaVu Sans','Liberation Sans',sans-serif">s</tspan><tspan x="46.47" y="0" style="font-size:25.5px;font-family:'DejaVu Sans','Liberation Sans',sans-serif">t</tspan><tspan x="56.47" y="0" style="font-size:25.5px;font-family:'DejaVu Sans','Liberation Sans',sans-serif">-</tspan><tspan x="65.67" y="0" style="font-size:25.5px;font-family:'DejaVu Sans','Liberation Sans',sans-serif">f</tspan><tspan x="74.64" y="0" style="font-size:25.5px;font-family:'DejaVu Sans','Liberation Sans',sans-serif">i</tspan><tspan x="81.73" y="0" style="font-size:25.5px;font-family:'DejaVu Sans','Liberation Sans',sans-serif">t</tspan><tspan x="91.73" y="0" style="font-size:25.5px;font-family:'DejaVu Sans','Liberation Sans',sans-serif">t</tspan><tspan x="101.73" y="0" style="font-size:25.5px;font-family:'DejaVu Sans','Liberation Sans',sans-serif">i</tspan><tspan x="108.81" y="0" style="font-size:25.5px;font-family:'DejaVu Sans','Liberation Sans',sans-serif">n</tspan><tspan x="124.97" y="0" style="font-size:25.5px;font-family:'DejaVu Sans','Liberation Sans',sans-serif">g</tspan><tspan x="149.26" y="0" style="font-size:25.5px;font-family:'DejaVu Sans','Liberation Sans',sans-serif">C</tspan><tspan x="178.76" y="0" style="font-size:25.5px;font-family:'DejaVu Sans','Liberation Sans',sans-serif">H</tspan><tspan x="217.73" y="0" style="font-size:25.5px;font-family:'DejaVu Sans','Liberation Sans',sans-serif">M</tspan><tspan x="239.73" y="0" style="font-size:25.5px;font-family:'DejaVu Sans','Liberation Sans',sans-serif">o</tspan><tspan x="255.33" y="0" style="font-size:25.5px;font-family:'DejaVu Sans','Liberation Sans',sans-serif">d</tspan><tspan x="271.52" y="0" style="font-size:25.5px;font-family:'DejaVu Sans','Liberation Sans',sans-serif">e</tspan><tspan x="287.21" y="0" style="font-size:25.5px;font-family:'DejaVu Sans','Liberation Sans',sans-serif">l</tspan><tspan x="168.21" y="4.34" style="font-size:17.85px;font-family:'Latin Modern Roman','LM Roman 10','Liberation Serif','DejaVu Serif',serif;stroke:#000;stroke-width:0.45px">3</tspan><tspan x="199.07" y="4.34" style="font-size:17.85px;font-family:'Latin Modern Roman','LM Roman 10','Liberation Serif','DejaVu Serif',serif;stroke:#000;stroke-width:0.45px">8</tspan></text>
<line x1="107.2" y1="1473.2" x2="144" y2="1473.2" stroke="#ff0000" stroke-width="2.1"/>
<text transform="translate(170.8 1481)"><tspan x="0" y="0" style="font-size:25.5px;font-family:'DejaVu Sans','Liberation Sans',sans-serif">N</tspan><tspan x="19.08" y="0" style="font-size:25.5px;font-family:'DejaVu Sans','Liberation Sans',sans-serif">o</tspan><tspan x="42.78" y="0" style="font-size:25.5px;font-family:'DejaVu Sans','Liberation Sans',sans-serif">C</tspan><tspan x="72.28" y="0" style="font-size:25.5px;font-family:'DejaVu Sans','Liberation Sans',sans-serif">H</tspan><tspan x="111.25" y="0" style="font-size:25.5px;font-family:'DejaVu Sans','Liberation Sans',sans-serif">M</tspan><tspan x="133.25" y="0" style="font-size:25.5px;font-family:'DejaVu Sans','Liberation Sans',sans-serif">o</tspan><tspan x="148.85" y="0" style="font-size:25.5px;font-family:'DejaVu Sans','Liberation Sans',sans-serif">d</tspan><tspan x="165.04" y="0" style="font-size:25.5px;font-family:'DejaVu Sans','Liberation Sans',sans-serif">e</tspan><tspan x="180.72" y="0" style="font-size:25.5px;font-family:'DejaVu Sans','Liberation Sans',sans-serif">l</tspan><tspan x="61.73" y="4.34" style="font-size:17.85px;font-family:'Latin Modern Roman','LM Roman 10','Liberation Serif','DejaVu Serif',serif;stroke:#000;stroke-width:0.45px">3</tspan><tspan x="92.59" y="4.34" style="font-size:17.85px;font-family:'Latin Modern Roman','LM Roman 10','Liberation Serif','DejaVu Serif',serif;stroke:#000;stroke-width:0.45px">8</tspan></text>
<line x1="107.2" y1="774.6" x2="144" y2="774.6" stroke="#000" stroke-width="1.1"/>
<text transform="translate(170.8 783.4)"><tspan x="0" y="0" style="font-size:25.5px;font-family:'DejaVu Sans','Liberation Sans',sans-serif">R</tspan><tspan x="17.72" y="0" style="font-size:25.5px;font-family:'DejaVu Sans','Liberation Sans',sans-serif">e</tspan><tspan x="33.41" y="0" style="font-size:25.5px;font-family:'DejaVu Sans','Liberation Sans',sans-serif">s</tspan><tspan x="46.69" y="0" style="font-size:25.5px;font-family:'DejaVu Sans','Liberation Sans',sans-serif">i</tspan><tspan x="53.78" y="0" style="font-size:25.5px;font-family:'DejaVu Sans','Liberation Sans',sans-serif">d</tspan><tspan x="69.96" y="0" style="font-size:25.5px;font-family:'DejaVu Sans','Liberation Sans',sans-serif">u</tspan><tspan x="86.12" y="0" style="font-size:25.5px;font-family:'DejaVu Sans','Liberation Sans',sans-serif">a</tspan><tspan x="101.75" y="0" style="font-size:25.5px;font-family:'DejaVu Sans','Liberation Sans',sans-serif">l</tspan><tspan x="108.84" y="0" style="font-size:25.5px;font-family:'DejaVu Sans','Liberation Sans',sans-serif">s</tspan><tspan x="130.23" y="0" style="font-size:25.5px;font-family:'DejaVu Sans','Liberation Sans',sans-serif">(</tspan><tspan x="140.18" y="0" style="font-size:25.5px;font-family:'DejaVu Sans','Liberation Sans',sans-serif">B</tspan><tspan x="157.67" y="0" style="font-size:25.5px;font-family:'DejaVu Sans','Liberation Sans',sans-serif">e</tspan><tspan x="173.36" y="0" style="font-size:25.5px;font-family:'DejaVu Sans','Liberation Sans',sans-serif">s</tspan><tspan x="186.64" y="0" style="font-size:25.5px;font-family:'DejaVu Sans','Liberation Sans',sans-serif">t</tspan><tspan x="196.64" y="0" style="font-size:25.5px;font-family:'DejaVu Sans','Liberation Sans',sans-serif">-</tspan><tspan x="205.84" y="0" style="font-size:25.5px;font-family:'DejaVu Sans','Liberation Sans',sans-serif">f</tspan><tspan x="214.82" y="0" style="font-size:25.5px;font-family:'DejaVu Sans','Liberation Sans',sans-serif">i</tspan><tspan x="221.9" y="0" style="font-size:25.5px;font-family:'DejaVu Sans','Liberation Sans',sans-serif">t</tspan><tspan x="231.9" y="0" style="font-size:25.5px;font-family:'DejaVu Sans','Liberation Sans',sans-serif">t</tspan><tspan x="241.9" y="0" style="font-size:25.5px;font-family:'DejaVu Sans','Liberation Sans',sans-serif">i</tspan><tspan x="248.99" y="0" style="font-size:25.5px;font-family:'DejaVu Sans','Liberation Sans',sans-serif">n</tspan><tspan x="265.15" y="0" style="font-size:25.5px;font-family:'DejaVu Sans','Liberation Sans',sans-serif">g</tspan><tspan x="289.44" y="0" style="font-size:25.5px;font-family:'DejaVu Sans','Liberation Sans',sans-serif">C</tspan><tspan x="318.93" y="0" style="font-size:25.5px;font-family:'DejaVu Sans','Liberation Sans',sans-serif">H</tspan><tspan x="357.9" y="0" style="font-size:25.5px;font-family:'DejaVu Sans','Liberation Sans',sans-serif">M</tspan><tspan x="379.91" y="0" style="font-size:25.5px;font-family:'DejaVu Sans','Liberation Sans',sans-serif">o</tspan><tspan x="395.51" y="0" style="font-size:25.5px;font-family:'DejaVu Sans','Liberation Sans',sans-serif">d</tspan><tspan x="411.69" y="0" style="font-size:25.5px;font-family:'DejaVu Sans','Liberation Sans',sans-serif">e</tspan><tspan x="427.38" y="0" style="font-size:25.5px;font-family:'DejaVu Sans','Liberation Sans',sans-serif">l</tspan><tspan x="434.47" y="0" style="font-size:25.5px;font-family:'DejaVu Sans','Liberation Sans',sans-serif">)</tspan><tspan x="308.38" y="4.34" style="font-size:17.85px;font-family:'Latin Modern Roman','LM Roman 10','Liberation Serif','DejaVu Serif',serif;stroke:#000;stroke-width:0.45px">3</tspan><tspan x="339.25" y="4.34" style="font-size:17.85px;font-family:'Latin Modern Roman','LM Roman 10','Liberation Serif','DejaVu Serif',serif;stroke:#000;stroke-width:0.45px">8</tspan></text>
<line x1="107.2" y1="1018.3" x2="144" y2="1018.3" stroke="#000" stroke-width="1.1"/>
<text transform="translate(170.8 1027.1)"><tspan x="0" y="0" style="font-size:25.5px;font-family:'DejaVu Sans','Liberation Sans',sans-serif">R</tspan><tspan x="17.72" y="0" style="font-size:25.5px;font-family:'DejaVu Sans','Liberation Sans',sans-serif">e</tspan><tspan x="33.41" y="0" style="font-size:25.5px;font-family:'DejaVu Sans','Liberation Sans',sans-serif">s</tspan><tspan x="46.69" y="0" style="font-size:25.5px;font-family:'DejaVu Sans','Liberation Sans',sans-serif">i</tspan><tspan x="53.78" y="0" style="font-size:25.5px;font-family:'DejaVu Sans','Liberation Sans',sans-serif">d</tspan><tspan x="69.96" y="0" style="font-size:25.5px;font-family:'DejaVu Sans','Liberation Sans',sans-serif">u</tspan><tspan x="86.12" y="0" style="font-size:25.5px;font-family:'DejaVu Sans','Liberation Sans',sans-serif">a</tspan><tspan x="101.75" y="0" style="font-size:25.5px;font-family:'DejaVu Sans','Liberation Sans',sans-serif">l</tspan><tspan x="108.84" y="0" style="font-size:25.5px;font-family:'DejaVu Sans','Liberation Sans',sans-serif">s</tspan><tspan x="130.23" y="0" style="font-size:25.5px;font-family:'DejaVu Sans','Liberation Sans',sans-serif">(</tspan><tspan x="140.18" y="0" style="font-size:25.5px;font-family:'DejaVu Sans','Liberation Sans',sans-serif">N</tspan><tspan x="159.25" y="0" style="font-size:25.5px;font-family:'DejaVu Sans','Liberation Sans',sans-serif">o</tspan><tspan x="182.96" y="0" style="font-size:25.5px;font-family:'DejaVu Sans','Liberation Sans',sans-serif">C</tspan><tspan x="212.45" y="0" style="font-size:25.5px;font-family:'DejaVu Sans','Liberation Sans',sans-serif">H</tspan><tspan x="251.42" y="0" style="font-size:25.5px;font-family:'DejaVu Sans','Liberation Sans',sans-serif">M</tspan><tspan x="273.42" y="0" style="font-size:25.5px;font-family:'DejaVu Sans','Liberation Sans',sans-serif">o</tspan><tspan x="289.02" y="0" style="font-size:25.5px;font-family:'DejaVu Sans','Liberation Sans',sans-serif">d</tspan><tspan x="305.21" y="0" style="font-size:25.5px;font-family:'DejaVu Sans','Liberation Sans',sans-serif">e</tspan><tspan x="320.9" y="0" style="font-size:25.5px;font-family:'DejaVu Sans','Liberation Sans',sans-serif">l</tspan><tspan x="327.98" y="0" style="font-size:25.5px;font-family:'DejaVu Sans','Liberation Sans',sans-serif">)</tspan><tspan x="201.9" y="4.34" style="font-size:17.85px;font-family:'Latin Modern Roman','LM Roman 10','Liberation Serif','DejaVu Serif',serif;stroke:#000;stroke-width:0.45px">3</tspan><tspan x="232.77" y="4.34" style="font-size:17.85px;font-family:'Latin Modern Roman','LM Roman 10','Liberation Serif','DejaVu Serif',serif;stroke:#000;stroke-width:0.45px">8</tspan></text>
<text transform="translate(546.4 143.07) rotate(-90)"><tspan x="0" y="0" style="font-size:22.67px;font-family:'DejaVu Sans','Liberation Sans',sans-serif">C</tspan><tspan x="26.22" y="0" style="font-size:22.67px;font-family:'DejaVu Sans','Liberation Sans',sans-serif">H</tspan><tspan x="53.65" y="0" style="font-size:22.67px;font-family:'DejaVu Sans','Liberation Sans',sans-serif">C</tspan><tspan x="69.48" y="0" style="font-size:22.67px;font-family:'DejaVu Sans','Liberation Sans',sans-serif">N</tspan><tspan x="16.84" y="3.85" style="font-size:15.87px;font-family:'Latin Modern Roman','LM Roman 10','Liberation Serif','DejaVu Serif',serif;stroke:#000;stroke-width:0.45px">2</tspan><tspan x="44.27" y="3.85" style="font-size:15.87px;font-family:'Latin Modern Roman','LM Roman 10','Liberation Serif','DejaVu Serif',serif;stroke:#000;stroke-width:0.45px">3</tspan></text>
<text transform="translate(576.5 126.4) rotate(-90)"><tspan x="0" y="0" style="font-size:22.67px;font-family:'DejaVu Sans','Liberation Sans',sans-serif">C</tspan><tspan x="26.22" y="0" style="font-size:22.67px;font-family:'DejaVu Sans','Liberation Sans',sans-serif">H</tspan><tspan x="16.84" y="3.85" style="font-size:15.87px;font-family:'Latin Modern Roman','LM Roman 10','Liberation Serif','DejaVu Serif',serif;stroke:#000;stroke-width:0.45px">3</tspan><tspan x="44.27" y="3.85" style="font-size:15.87px;font-family:'Latin Modern Roman','LM Roman 10','Liberation Serif','DejaVu Serif',serif;stroke:#000;stroke-width:0.45px">8</tspan></text>
<text transform="translate(555.1 1596.2) rotate(-90)"><tspan x="0" y="0" style="font-size:22.67px;font-family:'DejaVu Sans','Liberation Sans',sans-serif">C</tspan><tspan x="26.22" y="0" style="font-size:22.67px;font-family:'DejaVu Sans','Liberation Sans',sans-serif">H</tspan><tspan x="16.84" y="3.85" style="font-size:15.87px;font-family:'Latin Modern Roman','LM Roman 10','Liberation Serif','DejaVu Serif',serif;stroke:#000;stroke-width:0.45px">3</tspan><tspan x="44.27" y="3.85" style="font-size:15.87px;font-family:'Latin Modern Roman','LM Roman 10','Liberation Serif','DejaVu Serif',serif;stroke:#000;stroke-width:0.45px">8</tspan></text>
<text transform="translate(594.4 1578.6) rotate(-90)" style="font-size:22.67px">U</text>
<text transform="translate(814 1478.6) rotate(-90)"><tspan x="0" y="0" style="font-size:22.67px;font-family:'DejaVu Sans','Liberation Sans',sans-serif">H</tspan><tspan x="17.04" y="0" style="font-size:22.67px;font-family:'DejaVu Sans','Liberation Sans',sans-serif">C</tspan><tspan x="43.26" y="0" style="font-size:22.67px;font-family:'DejaVu Sans','Liberation Sans',sans-serif">N</tspan><tspan x="33.88" y="3.85" style="font-size:15.87px;font-family:'Latin Modern Roman','LM Roman 10','Liberation Serif','DejaVu Serif',serif;stroke:#000;stroke-width:0.45px">3</tspan></text>
</svg></body></html>
